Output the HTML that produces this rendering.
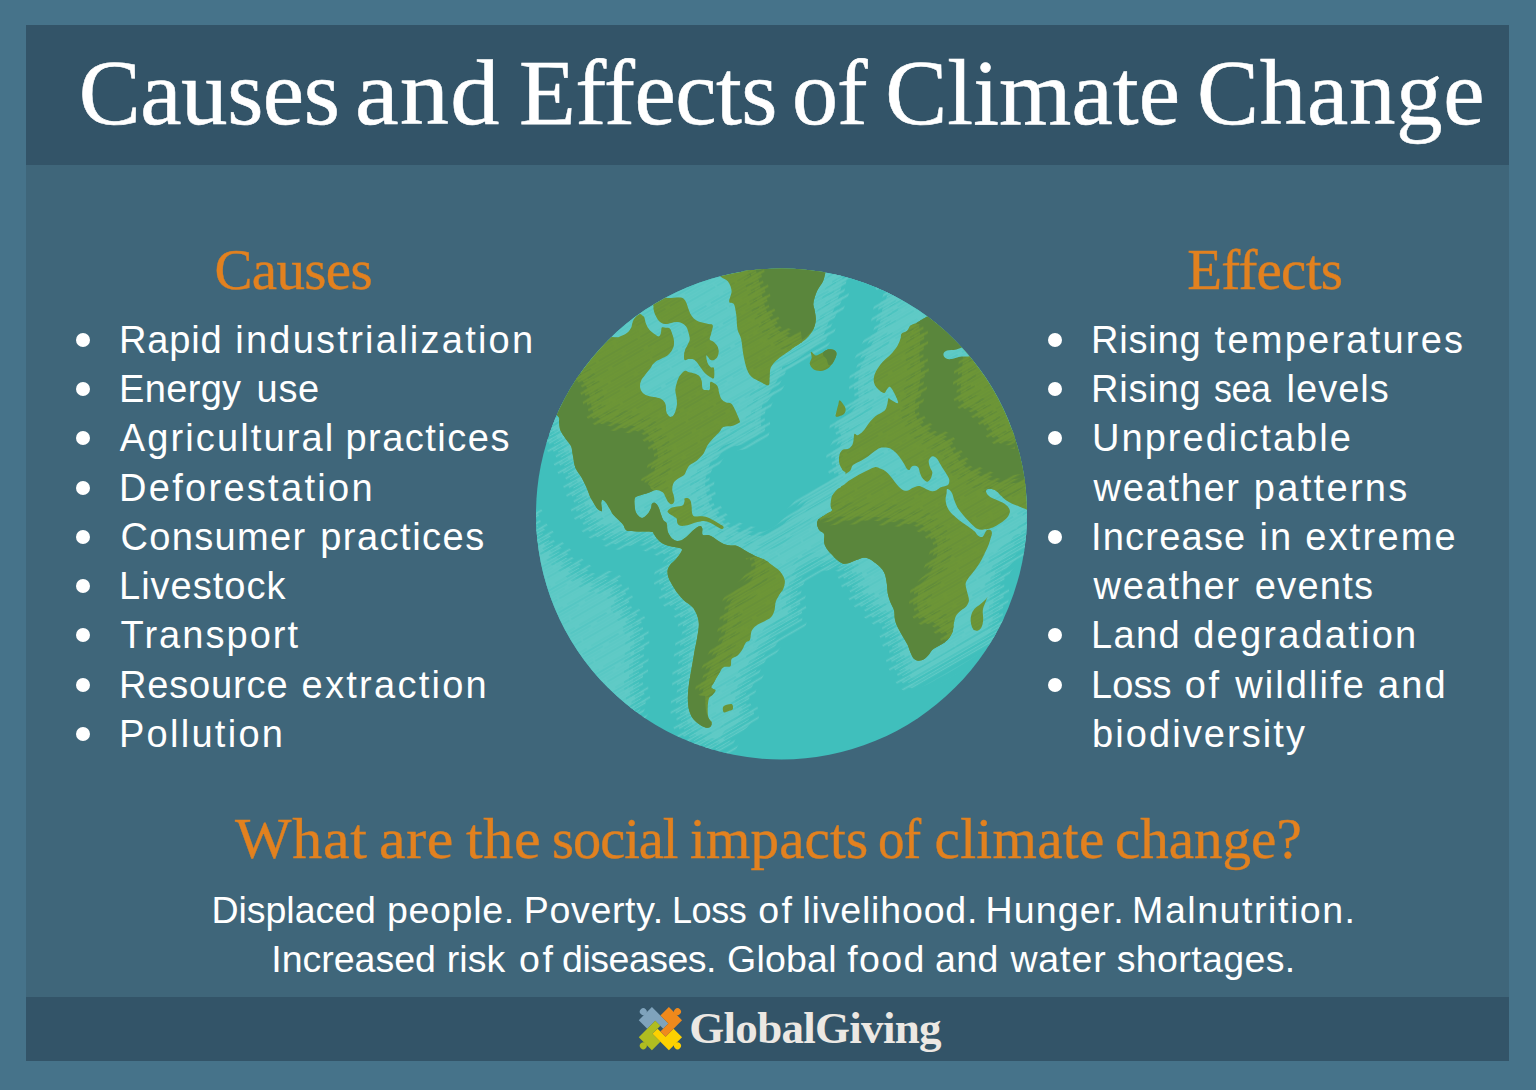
<!DOCTYPE html>
<html><head><meta charset="utf-8"><title>Causes and Effects of Climate Change</title>
<style>
html,body{margin:0;padding:0}
body{width:1536px;height:1090px;background:#46738a;position:relative;overflow:hidden;font-family:"Liberation Sans",sans-serif}
#panel{position:absolute;left:26px;top:25px;width:1483px;height:1036px;background:#3f667a}
#hdr{position:absolute;left:26px;top:25px;width:1483px;height:140px;background:#335468}
#ftr{position:absolute;left:26px;top:997px;width:1483px;height:64px;background:#335468}
.t{position:absolute;white-space:nowrap;line-height:1;margin:0}
.b{position:absolute;width:14px;height:14px;border-radius:50%;background:#fff}
svg{position:absolute;overflow:visible}
</style></head><body>
<div id="panel"></div><div id="hdr"></div><div id="ftr"></div>
<svg id="globe" style="left:0;top:0" width="1536" height="1090" viewBox="0 0 1536 1090">
<defs><clipPath id="gc"><circle cx="781.5" cy="514" r="245.5"/></clipPath>
<clipPath id="lc"><path d="M544.3,379.3C549.9,367.3 566.3,338.6 577.7,331.6C589.1,324.5 605.4,336.4 612.7,337.1C620.0,337.8 619.1,336.5 621.7,335.7C624.2,334.9 626.2,333.7 627.8,332.3C629.4,330.9 630.4,329.3 631.3,327.5C632.1,325.6 632.2,323.0 632.9,321.3C633.6,319.6 634.3,318.4 635.4,317.2C636.6,315.9 638.6,314.0 639.8,313.9C641.1,313.7 642.2,315.4 643.0,316.1C643.7,316.7 643.8,316.5 644.4,317.8C644.9,319.2 645.3,322.1 646.1,324.0C646.9,326.0 647.9,327.9 649.2,329.5C650.5,331.1 652.4,332.5 654.0,333.7C655.6,334.8 657.7,336.5 658.8,336.4C660.0,336.3 660.4,334.5 660.9,333.0C661.4,331.5 661.0,328.3 661.8,327.5C662.6,326.6 664.4,327.6 665.7,327.8C667.0,327.9 668.7,327.2 669.8,328.4C671.0,329.7 671.9,333.0 672.6,335.0C673.3,337.1 673.8,338.7 673.9,340.6C674.1,342.4 674.1,344.2 673.7,346.1C673.2,347.9 672.3,350.0 671.2,351.6C670.1,353.2 668.7,354.5 667.1,355.7C665.5,356.8 663.4,357.5 661.6,358.4C659.7,359.4 657.5,360.2 656.1,361.2C654.6,362.2 653.5,363.5 652.6,364.6C651.7,365.8 651.8,366.4 650.6,368.1C649.3,369.8 646.6,372.9 645.0,375.0C643.5,377.0 642.0,378.6 641.2,380.5C640.3,382.3 639.9,384.1 640.0,386.0C640.0,387.8 640.6,390.0 641.6,391.5C642.6,393.0 644.0,394.0 645.7,394.9C647.5,395.8 649.7,396.2 651.9,396.7C654.1,397.2 656.9,397.3 658.8,398.1C660.8,398.8 662.5,399.9 663.6,401.1C664.8,402.3 665.2,403.4 665.7,405.2C666.1,407.1 665.9,410.4 666.4,412.1C666.8,413.8 667.8,414.7 668.4,415.6C669.1,416.4 669.7,416.9 670.5,416.9C671.3,416.9 672.4,416.6 673.3,415.6C674.1,414.5 675.0,412.7 675.6,410.7C676.2,408.8 676.8,406.1 677.0,403.9C677.1,401.6 676.7,399.3 676.4,397.0C676.1,394.7 675.3,392.4 675.3,390.1C675.4,387.8 676.0,385.5 676.7,383.2C677.4,380.9 678.1,378.4 679.4,376.3C680.8,374.3 683.3,371.5 685.0,370.8C686.6,370.1 687.5,371.7 689.1,372.2C690.7,372.7 692.9,372.9 694.6,373.6C696.3,374.3 698.2,375.1 699.4,376.3C700.6,377.6 701.2,379.1 701.7,381.1C702.3,383.2 701.8,387.2 702.6,388.7C703.3,390.2 705.1,390.0 706.3,390.1C707.5,390.2 709.0,390.7 709.7,389.4C710.4,388.1 709.6,383.1 710.4,382.1C711.2,381.1 713.3,382.7 714.5,383.5C715.8,384.2 716.9,385.1 717.7,386.7C718.5,388.2 718.5,390.8 719.1,392.8C719.7,394.9 720.3,397.5 721.4,399.0C722.5,400.6 723.9,401.4 725.6,402.2C727.2,403.0 729.6,402.5 731.1,403.6C732.5,404.7 733.3,406.6 734.5,408.7C735.6,410.8 737.0,414.1 737.9,416.2C738.9,418.4 739.7,420.7 740.0,421.7C740.3,422.7 741.1,421.5 739.9,422.2C738.7,422.9 735.5,425.0 732.8,425.8C730.0,426.6 725.4,426.0 723.2,427.0C721.0,428.0 721.2,430.0 719.6,431.7C718.0,433.5 715.7,435.5 713.7,437.7C711.7,439.9 709.4,442.3 707.7,444.9C706.0,447.4 705.4,450.6 703.7,453.2C701.9,455.8 699.3,458.4 697.0,460.4C694.7,462.4 691.5,463.5 689.8,465.1C688.1,466.7 687.6,468.4 686.6,470.0C685.7,471.6 685.6,473.4 684.1,475.0C682.6,476.5 679.3,477.7 677.5,479.1C675.7,480.5 674.3,481.4 673.4,483.2C672.5,485.0 672.2,487.6 672.2,489.8C672.3,492.0 673.6,494.5 673.9,496.4C674.2,498.3 674.6,500.1 674.2,501.4C673.9,502.7 672.7,504.2 671.7,504.3C670.8,504.5 669.5,503.4 668.4,502.2C667.4,501.0 666.6,498.9 665.6,497.2C664.7,495.6 664.3,493.5 662.7,492.3C661.1,491.1 658.5,490.0 656.1,490.1C653.6,490.3 650.6,492.2 647.8,493.1C645.0,494.0 641.7,494.8 639.5,495.6C637.4,496.4 635.7,496.4 634.9,498.1C634.1,499.7 634.4,503.0 634.6,505.5C634.8,508.0 635.0,510.9 636.2,512.9C637.5,515.0 640.1,517.8 642.0,517.9C643.9,518.0 646.3,515.4 647.8,513.8C649.3,512.1 650.4,509.6 651.1,508.0C651.8,506.3 651.2,504.7 651.9,503.9C652.6,503.0 654.1,502.5 655.2,503.0C656.3,503.6 657.6,505.2 658.5,507.2C659.5,509.1 660.2,512.4 661.0,514.6C661.8,516.8 662.5,518.9 663.5,520.4C664.4,521.8 666.1,521.4 666.8,523.2C667.5,525.0 666.9,528.8 667.6,531.1C668.3,533.4 669.5,535.3 670.9,536.9C672.3,538.5 674.1,540.1 675.9,540.7C677.7,541.2 679.7,541.0 681.7,540.2C683.6,539.4 685.6,537.6 687.4,536.1C689.2,534.5 690.9,532.5 692.4,531.1C693.9,529.7 695.2,528.6 696.5,527.8C697.8,527.0 699.3,526.0 700.3,526.1C701.3,526.3 701.9,527.2 702.3,528.6C702.7,530.1 701.5,533.6 702.6,534.7C703.7,535.8 707.0,534.7 708.9,535.2C710.8,535.7 712.1,536.6 713.9,537.7C715.6,538.8 717.4,540.6 719.6,541.8C721.8,543.1 724.4,544.5 727.1,545.1C729.7,545.8 732.8,545.1 735.3,545.6C737.8,546.2 739.7,547.3 741.9,548.4C744.1,549.6 746.1,551.2 748.5,552.6C751.0,553.9 754.0,555.5 756.8,556.7C759.5,557.9 762.3,558.4 765.0,560.0C767.8,561.6 770.7,564.1 773.3,566.1C775.9,568.1 778.6,569.6 780.5,572.0C782.4,574.4 784.3,577.6 784.8,580.4C785.2,583.1 784.2,586.3 783.3,588.7C782.4,591.1 780.5,592.5 779.3,594.7C778.0,596.9 776.5,599.3 775.7,601.8C774.9,604.4 775.3,607.6 774.5,610.2C773.7,612.8 772.5,615.6 770.9,617.3C769.3,619.1 767.1,619.7 765.0,620.9C762.8,622.1 760.0,622.9 757.8,624.5C755.6,626.1 753.1,627.9 751.8,630.5C750.5,633.0 750.9,638.0 749.9,640.0C748.9,642.0 747.1,640.8 745.9,642.4C744.6,644.0 743.7,647.4 742.3,649.5C740.9,651.7 739.3,653.9 737.5,655.5C735.7,657.1 732.8,657.3 731.6,659.1C730.4,660.9 731.8,664.8 730.4,666.2C729.0,667.6 725.2,666.0 723.2,667.4C721.2,668.8 720.0,672.0 718.4,674.6C716.9,677.2 714.9,680.7 713.7,682.9C712.5,685.1 711.0,686.5 711.3,687.7C711.6,688.9 715.4,688.9 715.6,690.1C715.8,691.3 713.6,693.5 712.5,694.9C711.4,696.3 709.7,696.3 708.9,698.4C708.1,700.6 707.8,704.8 707.7,708.0C707.6,711.2 707.7,715.1 708.4,717.5C709.1,719.9 711.5,720.7 711.8,722.3C712.0,723.9 711.2,726.2 710.1,727.1C709.0,727.9 707.3,728.1 705.3,727.5C703.3,726.9 700.4,725.2 698.2,723.5C696.0,721.8 693.8,720.1 692.2,717.5C690.6,714.9 689.3,711.6 688.6,708.0C687.9,704.4 687.8,700.4 687.9,696.1C688.0,691.7 688.6,686.9 689.3,681.7C690.1,676.6 691.3,670.2 692.2,665.0C693.1,659.9 693.8,655.1 694.6,650.7C695.4,646.4 696.3,643.2 697.0,638.8C697.7,634.4 698.9,628.5 698.9,624.5C698.9,620.5 697.9,617.7 697.0,615.0C696.1,612.2 693.6,608.6 693.4,607.8C693.2,607.0 696.1,610.8 695.7,610.4C695.2,610.0 692.7,607.1 690.7,605.4C688.8,603.8 686.3,602.5 684.1,600.5C681.9,598.4 679.6,595.8 677.5,593.0C675.5,590.3 673.3,586.6 671.7,583.9C670.2,581.3 669.1,579.5 668.4,577.3C667.8,575.1 667.3,572.8 667.6,570.7C667.9,568.7 668.7,566.9 670.1,565.0C671.5,563.0 674.1,561.2 675.9,559.2C677.7,557.1 679.9,554.3 680.8,552.6C681.8,550.9 682.5,549.8 681.7,548.9C680.8,548.1 677.9,547.8 675.9,547.3C673.8,546.8 671.5,546.6 669.3,546.0C667.1,545.3 664.7,544.7 662.7,543.5C660.6,542.2 658.4,540.2 656.9,538.5C655.4,536.9 654.4,534.7 653.6,533.6C652.8,532.5 654.3,532.3 651.9,531.9C649.6,531.6 643.3,531.7 639.5,531.6C635.8,531.5 632.0,531.5 629.6,531.1C627.3,530.7 626.6,530.6 625.5,529.4C624.4,528.3 624.3,526.1 623.0,524.5C621.8,522.8 619.7,521.2 618.1,519.5C616.4,517.9 614.5,516.4 613.1,514.6C611.7,512.8 611.1,510.9 609.8,508.8C608.6,506.7 606.9,503.7 605.7,502.2C604.4,500.7 603.1,499.6 602.4,499.7C601.6,499.9 601.3,501.5 601.2,503.0C601.1,504.5 601.8,507.4 601.9,508.8C601.9,510.2 602.3,511.3 601.6,511.3C600.8,511.3 598.8,510.3 597.4,508.8C596.1,507.3 594.5,504.3 593.3,502.2C592.1,500.1 591.2,499.0 590.0,496.4C588.8,493.8 587.5,489.8 586.1,486.6C584.6,483.4 583.1,480.2 581.3,477.1C579.5,473.9 576.7,471.1 575.3,467.5C573.9,463.9 573.7,459.2 572.9,455.6C572.2,452.0 572.2,448.8 571.0,446.1C569.8,443.3 567.5,441.5 565.8,438.9C564.0,436.3 561.6,433.3 560.5,430.6C559.4,427.8 559.5,424.6 559.1,422.2C558.7,419.8 560.6,419.4 558.1,416.2C555.7,413.1 546.6,409.3 544.3,403.1C542.0,397.0 538.7,391.2 544.3,379.3Z"/><path d="M653.3,305.5C653.8,306.9 653.2,308.0 653.6,309.6C653.9,311.2 654.6,313.4 655.4,315.1C656.1,316.8 657.1,318.6 658.1,319.9C659.2,321.2 660.3,322.2 661.6,322.9C662.8,323.6 664.1,324.0 665.7,324.0C667.3,324.0 669.4,323.3 671.2,322.9C673.0,322.6 674.9,321.9 676.7,322.0C678.5,322.0 680.6,322.5 682.2,323.3C683.8,324.2 685.3,325.3 686.3,326.8C687.4,328.3 687.8,330.2 688.4,332.3C689.0,334.4 689.9,337.1 689.8,339.2C689.7,341.2 688.5,342.8 687.7,344.7C686.9,346.5 685.6,348.3 685.0,350.2C684.3,352.0 684.0,354.0 684.0,355.7C683.9,357.3 683.9,359.5 684.7,360.1C685.4,360.7 687.1,359.3 688.4,359.1C689.7,359.0 691.1,358.7 692.5,359.1C693.9,359.6 695.4,360.6 696.7,361.9C697.9,363.1 698.8,365.0 700.1,366.7C701.4,368.4 702.7,370.6 704.2,372.2C705.7,373.8 707.4,375.4 709.0,376.3C710.6,377.3 713.1,379.4 713.9,378.0C714.7,376.6 714.3,369.8 713.9,368.1C713.4,366.3 712.0,368.0 711.1,367.4C710.2,366.8 709.1,365.9 708.3,364.6C707.6,363.4 707.0,361.4 706.7,359.8C706.4,358.3 706.1,355.9 706.3,355.4C706.5,355.0 707.4,356.3 708.1,357.1C708.8,357.8 709.4,359.3 710.4,359.8C711.4,360.3 712.7,360.6 713.9,360.1C715.0,359.6 716.5,358.5 717.3,357.1C718.1,355.6 718.7,353.4 718.7,351.6C718.7,349.7 718.1,347.7 717.3,346.1C716.5,344.4 715.1,343.0 713.9,341.9C712.6,340.8 710.2,340.8 709.7,339.4C709.3,338.1 710.6,336.0 711.1,333.7C711.6,331.3 713.2,327.0 712.8,325.4C712.3,323.8 710.5,324.6 708.3,324.0C706.2,323.5 702.4,322.8 700.1,322.0C697.8,321.2 696.1,320.4 694.6,319.2C693.1,318.1 692.2,316.8 691.1,315.1C690.1,313.4 689.2,311.0 688.4,308.9C687.6,306.8 687.2,304.5 686.3,302.7C685.4,300.9 684.3,299.2 682.9,298.3C681.5,297.5 680.7,297.7 678.1,297.6C675.4,297.5 670.3,298.5 667.1,297.9C663.9,297.2 661.6,293.3 658.8,293.8C656.1,294.2 651.5,298.7 650.6,300.6C649.6,302.6 652.8,304.0 653.3,305.5Z"/><path d="M716.1,269.5C706.2,273.1 718.8,274.7 720.8,276.7C722.8,278.7 726.2,279.1 728.0,281.5C729.8,283.9 731.4,287.6 731.6,291.0C731.8,294.4 728.8,299.6 729.2,301.7C729.6,303.9 732.8,301.9 733.9,304.1C735.1,306.3 735.7,310.7 736.3,314.9C736.9,319.0 736.7,325.2 737.5,329.2C738.3,333.1 740.1,334.3 741.1,338.7C742.1,343.1 742.5,350.2 743.5,355.4C744.5,360.6 745.7,366.1 747.1,369.7C748.5,373.3 749.6,374.9 751.8,376.9C754.0,378.9 757.4,380.3 760.2,381.7C763.0,383.0 766.9,386.0 768.5,385.2C770.1,384.4 769.3,379.9 769.7,376.9C770.1,373.9 769.5,370.3 770.9,367.3C772.3,364.4 774.9,361.8 778.1,359.0C781.3,356.2 787.3,352.6 790.0,350.6C792.7,348.7 791.6,349.1 794.3,347.1C797.0,345.1 803.1,341.7 806.2,338.7C809.4,335.7 811.8,332.4 813.4,329.2C815.0,326.0 815.6,322.8 815.8,319.6C816.0,316.5 815.0,312.9 814.6,310.1C814.2,307.3 813.0,306.1 813.4,302.9C813.8,299.8 815.4,294.6 817.0,291.0C818.6,287.4 821.5,284.4 822.9,281.5C824.3,278.5 824.5,275.9 825.3,273.1C826.1,270.3 835.3,267.8 827.7,264.8C820.2,261.8 798.6,254.4 780.0,255.2C761.4,256.0 725.9,266.0 716.1,269.5Z"/><path d="M811.0,351.8C811.7,351.4 814.0,355.2 815.8,355.4C817.6,355.6 819.8,354.0 821.7,353.0C823.7,352.0 825.6,349.9 827.7,349.4C829.8,349.0 832.9,349.4 834.4,350.2C835.9,351.0 836.7,352.4 836.5,354.2C836.4,356.1 835.1,359.0 833.7,361.4C832.2,363.8 829.9,366.9 827.7,368.5C825.5,370.1 822.9,370.8 820.6,370.9C818.2,371.0 815.2,370.4 813.4,369.2C811.6,368.1 810.1,365.7 809.8,363.8C809.5,361.9 811.5,359.8 811.7,357.8C811.9,355.8 810.3,352.2 811.0,351.8Z"/><path d="M839.6,400.3C840.4,400.3 842.2,402.8 843.2,404.3C844.2,405.8 845.5,407.5 845.6,409.1C845.7,410.7 845.5,412.6 843.9,413.9C842.3,415.1 837.2,417.3 836.1,416.7C834.9,416.1 836.4,412.3 836.8,410.3C837.2,408.2 838.0,406.0 838.4,404.3C838.9,402.6 838.8,400.3 839.6,400.3Z"/><path d="M667.6,511.3C667.9,510.3 669.5,508.8 670.9,508.0C672.3,507.2 673.9,507.1 675.9,506.7C677.8,506.2 681.0,506.4 682.5,505.5C683.9,504.6 684.1,502.6 684.5,501.4C684.8,500.2 684.0,499.0 684.5,498.4C685.0,497.9 686.4,497.7 687.4,498.1C688.4,498.4 689.7,499.2 690.4,500.6C691.1,501.9 691.3,504.3 691.6,506.3C691.8,508.4 691.6,511.3 692.1,512.9C692.5,514.6 692.9,515.7 694.0,516.2C695.2,516.8 697.1,516.2 699.0,516.2C700.9,516.3 703.5,516.2 705.6,516.7C707.7,517.2 709.4,518.2 711.4,519.2C713.3,520.2 715.2,521.4 717.2,522.5C719.1,523.7 721.9,525.2 722.9,526.1C724.0,527.1 723.7,527.7 723.4,528.1C723.2,528.6 722.6,529.3 721.3,529.0C720.0,528.6 717.4,526.9 715.5,525.8C713.6,524.7 711.7,523.3 709.7,522.5C707.8,521.7 706.0,520.9 703.9,520.9C701.9,520.8 699.5,521.5 697.3,522.0C695.1,522.6 692.9,523.5 690.7,524.2C688.5,524.8 686.1,525.6 684.1,525.8C682.2,526.0 680.3,525.9 679.2,525.3C678.0,524.8 677.6,523.6 677.2,522.5C676.8,521.4 677.3,519.8 676.7,518.7C676.1,517.7 674.6,517.1 673.4,516.2C672.2,515.4 670.2,514.6 669.3,513.8C668.3,512.9 667.3,512.2 667.6,511.3Z"/><path d="M723.2,706.8C723.9,705.5 726.5,704.8 728.0,704.4C729.5,704.0 731.5,703.6 732.3,704.4C733.1,705.2 733.3,708.1 732.8,709.2C732.2,710.2 730.7,710.3 729.2,710.8C727.7,711.4 724.7,713.0 723.7,712.3C722.7,711.6 722.5,708.1 723.2,706.8Z"/><path d="M987.5,597.1C987.4,597.7 985.9,600.8 985.1,603.0C984.3,605.2 983.1,607.4 982.8,610.2C982.4,613.0 983.4,616.9 983.2,619.7C983.0,622.5 982.4,625.1 981.6,626.9C980.7,628.7 979.4,630.1 978.0,630.5C976.6,630.9 974.4,630.7 973.2,629.3C972.0,627.9 971.1,624.5 970.8,622.1C970.5,619.7 970.7,617.1 971.3,615.0C971.9,612.8 972.9,610.8 974.4,609.0C975.9,607.2 978.5,605.8 980.4,604.2C982.2,602.6 984.4,600.6 985.6,599.4C986.8,598.3 987.6,596.5 987.5,597.1Z"/><path d="M926.0,317.2C921.0,319.7 919.7,321.1 917.2,322.5C914.6,323.9 912.4,324.2 910.7,325.6C909.0,327.0 908.4,329.8 906.9,331.1C905.4,332.4 902.7,332.2 901.7,333.5C900.6,334.7 901.2,336.6 900.5,338.7C899.7,340.8 898.9,343.3 897.4,345.9C895.8,348.5 893.4,351.5 890.9,354.2C888.5,356.9 885.1,359.2 882.6,362.1C880.1,365.0 877.4,368.6 875.9,371.6C874.4,374.7 873.6,377.8 873.7,380.5C873.9,383.1 874.9,385.5 876.6,387.6C878.3,389.7 882.0,392.9 883.8,393.1C885.6,393.3 886.3,389.8 887.3,388.8C888.4,387.8 889.0,386.3 890.2,387.1C891.4,387.9 893.2,390.9 894.5,393.6C895.8,396.2 898.6,402.0 898.1,403.1C897.6,404.2 893.2,401.1 891.6,400.3C890.0,399.5 889.2,397.7 888.5,398.3C887.8,399.0 888.0,402.2 887.3,404.3C886.7,406.4 886.5,408.8 884.5,410.8C882.5,412.7 878.0,414.1 875.4,416.2C872.8,418.3 870.8,420.9 868.7,423.4C866.7,425.9 864.9,429.3 863.0,431.3C861.1,433.3 859.0,434.8 857.5,435.3C856.1,435.8 855.2,432.8 854.4,434.1C853.7,435.4 853.9,440.8 853.0,443.2C852.1,445.6 850.8,447.4 849.2,448.4C847.5,449.5 844.8,448.6 843.2,449.6C841.6,450.6 840.3,452.2 839.6,454.4C839.0,456.6 838.7,460.2 839.2,462.8C839.6,465.3 841.4,468.1 842.5,469.9C843.6,471.7 845.8,470.8 845.6,473.5C845.4,476.2 842.9,483.5 841.5,486.1C840.1,488.8 838.8,487.8 837.2,489.5C835.7,491.1 833.1,493.4 832.0,496.1C830.9,498.9 830.6,503.3 830.6,505.7C830.6,508.1 832.7,509.1 832.0,510.5C831.3,511.9 828.6,512.6 826.5,514.0C824.4,515.4 820.7,517.9 819.4,518.8C818.0,519.7 818.6,518.6 818.2,519.5C817.8,520.5 816.8,522.5 817.0,524.3C817.2,526.1 818.2,528.7 819.4,530.3C820.6,531.9 823.3,531.9 824.1,533.9C824.9,535.8 823.7,539.8 824.1,542.2C824.5,544.6 825.3,546.2 826.5,548.2C827.7,550.2 829.5,552.1 831.3,554.1C833.1,556.1 835.3,558.5 837.2,560.1C839.2,561.7 841.2,563.2 843.2,563.7C845.2,564.1 847.0,563.6 849.2,563.0C851.4,562.4 853.9,561.0 856.3,560.1C858.7,559.2 861.3,557.9 863.5,557.7C865.7,557.5 867.5,558.0 869.4,558.9C871.4,559.8 873.4,561.4 875.4,563.0C877.4,564.5 879.8,566.5 881.4,568.4C883.0,570.3 884.0,571.8 885.0,574.4C885.9,577.0 886.4,580.8 886.9,583.9C887.3,587.1 887.3,590.5 887.8,593.5C888.4,596.5 889.2,599.1 890.2,601.8C891.2,604.6 893.2,607.2 894.0,610.2C894.8,613.2 894.3,616.7 895.0,619.7C895.6,622.7 896.8,625.3 898.1,628.1C899.4,630.9 901.3,633.6 902.8,636.4C904.4,639.2 906.3,642.0 907.6,644.8C908.9,647.6 909.7,650.9 910.7,653.1C911.7,655.4 912.3,657.1 913.6,658.4C914.9,659.6 916.6,660.6 918.3,660.8C920.1,660.9 922.5,660.2 924.3,659.1C926.1,658.0 927.7,655.9 929.1,654.3C930.5,652.7 931.1,650.9 932.7,649.5C934.3,648.1 936.6,647.2 938.6,646.0C940.6,644.8 942.8,643.8 944.6,642.4C946.4,641.0 948.0,639.6 949.4,637.6C950.7,635.6 952.1,633.0 952.9,630.5C953.7,627.9 953.5,624.7 954.1,622.1C954.7,619.5 955.3,616.9 956.5,615.0C957.7,613.0 959.7,611.6 961.3,610.2C962.9,608.8 964.8,608.2 966.1,606.6C967.3,605.0 968.7,603.0 968.9,600.6C969.1,598.3 967.8,595.1 967.2,592.3C966.7,589.5 965.4,586.3 965.6,583.9C965.8,581.6 967.2,580.0 968.4,578.0C969.7,576.0 971.4,574.4 973.2,572.0C975.0,569.6 977.2,566.9 979.2,563.7C981.2,560.5 984.6,553.9 985.1,552.9C985.6,551.9 982.0,557.9 982.1,557.6C982.2,557.3 984.7,553.2 985.8,551.0C986.9,548.8 987.9,546.6 988.7,544.4C989.5,542.2 990.3,539.6 990.8,537.8C991.3,536.0 991.8,534.8 991.9,533.7C991.9,532.5 991.7,531.4 991.2,530.8C990.7,530.1 989.5,529.8 988.7,529.8C987.9,529.7 986.9,530.5 986.2,530.5C985.6,530.5 984.6,530.0 984.6,529.8C984.6,529.6 984.9,529.8 986.2,529.4C987.6,529.0 990.6,528.4 992.8,527.5C995.0,526.5 997.4,525.1 999.4,523.8C1001.5,522.5 1003.6,521.1 1005.2,519.6C1006.8,518.1 1008.2,516.2 1008.9,514.7C1009.7,513.2 1010.0,511.9 1009.8,510.6C1009.6,509.2 1008.9,507.7 1007.7,506.4C1006.5,505.1 1004.7,503.8 1002.8,502.7C1000.8,501.6 998.3,500.8 996.1,499.8C993.9,498.8 991.2,497.8 989.5,496.5C987.9,495.3 986.7,493.6 986.2,492.4C985.8,491.2 986.0,490.1 986.7,489.5C987.3,488.9 988.9,488.5 990.4,488.7C991.8,488.8 993.7,489.3 995.3,490.3C997.0,491.4 998.5,493.2 1000.3,494.9C1002.1,496.5 1004.0,498.7 1006.1,500.2C1008.1,501.7 1010.5,502.9 1012.7,503.9C1014.9,505.0 1017.0,505.5 1019.3,506.4C1021.5,507.3 1023.7,508.5 1026.3,509.3C1028.9,510.1 1028.3,529.1 1035.0,511.4C1041.6,493.7 1069.0,437.1 1066.2,403.1C1063.5,369.2 1038.4,323.6 1018.5,307.7C998.7,291.8 962.4,306.1 947.0,307.7C931.5,309.3 931.0,314.8 926.0,317.2Z"/></clipPath>
<pattern id="hl" width="80" height="24.00" patternUnits="userSpaceOnUse" patternTransform="rotate(-30)"><path d="M0,3.00H80" stroke="#5a863c" stroke-width="0.96" stroke-opacity="0.27" stroke-dasharray="28 4" stroke-dashoffset="21"/><path d="M0,6.00H80" stroke="#5a863c" stroke-width="0.99" stroke-opacity="0.20" stroke-dasharray="26 3" stroke-dashoffset="16"/><path d="M0,9.00H80" stroke="#5a863c" stroke-width="0.76" stroke-opacity="0.22" stroke-dasharray="54 1" stroke-dashoffset="14"/><path d="M0,12.00H80" stroke="#5a863c" stroke-width="0.88" stroke-opacity="0.65" stroke-dasharray="45 3" stroke-dashoffset="30"/><path d="M0,15.00H80" stroke="#5a863c" stroke-width="1.48" stroke-opacity="0.19" stroke-dasharray="35 1" stroke-dashoffset="27"/><path d="M0,18.00H80" stroke="#5a863c" stroke-width="0.79" stroke-opacity="0.40" stroke-dasharray="31 5" stroke-dashoffset="26"/><path d="M0,21.00H80" stroke="#5a863c" stroke-width="1.21" stroke-opacity="0.45" stroke-dasharray="27 0" stroke-dashoffset="18"/><path d="M0,0.00H80" stroke="#5a863c" stroke-width="0.86" stroke-opacity="0.69" stroke-dasharray="36 5" stroke-dashoffset="14"/><path d="M0,24.00H80" stroke="#5a863c" stroke-width="0.86" stroke-opacity="0.69" stroke-dasharray="36 5" stroke-dashoffset="14"/></pattern><pattern id="hs" width="80" height="24.00" patternUnits="userSpaceOnUse" patternTransform="rotate(-30)"><path d="M0,3.00H80" stroke="#40bfbc" stroke-width="0.87" stroke-opacity="0.30" stroke-dasharray="49 2" stroke-dashoffset="25"/><path d="M0,6.00H80" stroke="#40bfbc" stroke-width="0.94" stroke-opacity="0.50" stroke-dasharray="51 2" stroke-dashoffset="28"/><path d="M0,9.00H80" stroke="#40bfbc" stroke-width="1.19" stroke-opacity="0.15" stroke-dasharray="51 1" stroke-dashoffset="13"/><path d="M0,12.00H80" stroke="#40bfbc" stroke-width="0.89" stroke-opacity="0.08" stroke-dasharray="52 5" stroke-dashoffset="21"/><path d="M0,15.00H80" stroke="#40bfbc" stroke-width="1.13" stroke-opacity="0.32" stroke-dasharray="46 5" stroke-dashoffset="22"/><path d="M0,18.00H80" stroke="#40bfbc" stroke-width="0.87" stroke-opacity="0.76" stroke-dasharray="42 5" stroke-dashoffset="30"/><path d="M0,21.00H80" stroke="#40bfbc" stroke-width="0.64" stroke-opacity="0.65" stroke-dasharray="60 7" stroke-dashoffset="21"/><path d="M0,0.00H80" stroke="#40bfbc" stroke-width="0.77" stroke-opacity="0.38" stroke-dasharray="26 4" stroke-dashoffset="21"/><path d="M0,24.00H80" stroke="#40bfbc" stroke-width="0.77" stroke-opacity="0.38" stroke-dasharray="26 4" stroke-dashoffset="21"/></pattern><pattern id="e1" width="80" height="24.00" patternUnits="userSpaceOnUse" patternTransform="rotate(-30)"><path d="M0,1.50H80" stroke="#60cac6" stroke-width="1.80"/><path d="M0,4.50H80" stroke="#60cac6" stroke-width="1.80"/><path d="M0,7.50H80" stroke="#60cac6" stroke-width="1.80"/><path d="M0,10.50H80" stroke="#60cac6" stroke-width="1.80"/><path d="M0,13.50H80" stroke="#60cac6" stroke-width="1.80"/><path d="M0,16.50H80" stroke="#60cac6" stroke-width="1.80"/><path d="M0,19.50H80" stroke="#60cac6" stroke-width="1.80"/><path d="M0,22.50H80" stroke="#60cac6" stroke-width="1.80"/></pattern><pattern id="e2" width="80" height="24.00" patternUnits="userSpaceOnUse" patternTransform="rotate(-30)"><path d="M0,1.50H80" stroke="#60cac6" stroke-width="1.80"/><path d="M0,7.50H80" stroke="#60cac6" stroke-width="1.80"/><path d="M0,10.50H80" stroke="#60cac6" stroke-width="1.80"/><path d="M0,16.50H80" stroke="#60cac6" stroke-width="1.80"/><path d="M0,19.50H80" stroke="#60cac6" stroke-width="1.80"/></pattern><pattern id="e3" width="80" height="24.00" patternUnits="userSpaceOnUse" patternTransform="rotate(-30)"><path d="M0,7.50H80" stroke="#60cac6" stroke-width="1.80"/><path d="M0,16.50H80" stroke="#60cac6" stroke-width="1.80"/></pattern><pattern id="d1" width="80" height="24.00" patternUnits="userSpaceOnUse" patternTransform="rotate(-30)"><path d="M0,3.00H80" stroke="#40bfbc" stroke-width="1.20"/><path d="M0,6.00H80" stroke="#40bfbc" stroke-width="1.20"/><path d="M0,9.00H80" stroke="#40bfbc" stroke-width="1.20"/><path d="M0,12.00H80" stroke="#40bfbc" stroke-width="1.20"/><path d="M0,15.00H80" stroke="#40bfbc" stroke-width="1.20"/><path d="M0,18.00H80" stroke="#40bfbc" stroke-width="1.20"/><path d="M0,21.00H80" stroke="#40bfbc" stroke-width="1.20"/><path d="M0,0.00H80" stroke="#40bfbc" stroke-width="1.20"/><path d="M0,24.00H80" stroke="#40bfbc" stroke-width="1.20"/></pattern><pattern id="d2" width="80" height="24.00" patternUnits="userSpaceOnUse" patternTransform="rotate(-30)"><path d="M0,3.00H80" stroke="#40bfbc" stroke-width="1.20"/><path d="M0,6.00H80" stroke="#40bfbc" stroke-width="1.20"/><path d="M0,12.00H80" stroke="#40bfbc" stroke-width="1.20"/><path d="M0,15.00H80" stroke="#40bfbc" stroke-width="1.20"/><path d="M0,21.00H80" stroke="#40bfbc" stroke-width="1.20"/></pattern><pattern id="d3" width="80" height="24.00" patternUnits="userSpaceOnUse" patternTransform="rotate(-30)"><path d="M0,6.00H80" stroke="#40bfbc" stroke-width="1.20"/><path d="M0,15.00H80" stroke="#40bfbc" stroke-width="1.20"/><path d="M0,21.00H80" stroke="#40bfbc" stroke-width="1.20"/></pattern><pattern id="g1" width="80" height="24.00" patternUnits="userSpaceOnUse" patternTransform="rotate(-30)"><path d="M0,1.50H80" stroke="#6d9636" stroke-width="1.80"/><path d="M0,4.50H80" stroke="#6d9636" stroke-width="1.80"/><path d="M0,7.50H80" stroke="#6d9636" stroke-width="1.80"/><path d="M0,10.50H80" stroke="#6d9636" stroke-width="1.80"/><path d="M0,13.50H80" stroke="#6d9636" stroke-width="1.80"/><path d="M0,16.50H80" stroke="#6d9636" stroke-width="1.80"/><path d="M0,19.50H80" stroke="#6d9636" stroke-width="1.80"/><path d="M0,22.50H80" stroke="#6d9636" stroke-width="1.80"/></pattern><pattern id="g2" width="80" height="24.00" patternUnits="userSpaceOnUse" patternTransform="rotate(-30)"><path d="M0,1.50H80" stroke="#6d9636" stroke-width="1.80"/><path d="M0,7.50H80" stroke="#6d9636" stroke-width="1.80"/><path d="M0,10.50H80" stroke="#6d9636" stroke-width="1.80"/><path d="M0,16.50H80" stroke="#6d9636" stroke-width="1.80"/><path d="M0,19.50H80" stroke="#6d9636" stroke-width="1.80"/></pattern><pattern id="g3" width="80" height="24.00" patternUnits="userSpaceOnUse" patternTransform="rotate(-30)"><path d="M0,7.50H80" stroke="#6d9636" stroke-width="1.80"/><path d="M0,16.50H80" stroke="#6d9636" stroke-width="1.80"/></pattern><pattern id="k1" width="80" height="24.00" patternUnits="userSpaceOnUse" patternTransform="rotate(-30)"><path d="M0,3.00H80" stroke="#5a863c" stroke-width="1.20"/><path d="M0,6.00H80" stroke="#5a863c" stroke-width="1.20"/><path d="M0,9.00H80" stroke="#5a863c" stroke-width="1.20"/><path d="M0,12.00H80" stroke="#5a863c" stroke-width="1.20"/><path d="M0,15.00H80" stroke="#5a863c" stroke-width="1.20"/><path d="M0,18.00H80" stroke="#5a863c" stroke-width="1.20"/><path d="M0,21.00H80" stroke="#5a863c" stroke-width="1.20"/><path d="M0,0.00H80" stroke="#5a863c" stroke-width="1.20"/><path d="M0,24.00H80" stroke="#5a863c" stroke-width="1.20"/></pattern><pattern id="k2" width="80" height="24.00" patternUnits="userSpaceOnUse" patternTransform="rotate(-30)"><path d="M0,3.00H80" stroke="#5a863c" stroke-width="1.20"/><path d="M0,6.00H80" stroke="#5a863c" stroke-width="1.20"/><path d="M0,12.00H80" stroke="#5a863c" stroke-width="1.20"/><path d="M0,15.00H80" stroke="#5a863c" stroke-width="1.20"/><path d="M0,21.00H80" stroke="#5a863c" stroke-width="1.20"/></pattern><pattern id="k3" width="80" height="24.00" patternUnits="userSpaceOnUse" patternTransform="rotate(-30)"><path d="M0,6.00H80" stroke="#5a863c" stroke-width="1.20"/><path d="M0,15.00H80" stroke="#5a863c" stroke-width="1.20"/><path d="M0,21.00H80" stroke="#5a863c" stroke-width="1.20"/></pattern>
</defs>
<g clip-path="url(#gc)"><circle cx="781.5" cy="514" r="246.5" fill="#40bfbc"/>
<path d="M552.7,412.7C547.9,436.5 547.7,420.6 549.1,427.0C550.5,433.3 557.2,442.9 561.0,450.8C564.8,458.8 568.6,466.7 571.7,474.7C574.9,482.6 578.1,492.6 580.1,498.5C582.1,504.4 581.7,505.7 583.7,510.0C585.7,514.3 587.8,520.1 592.0,524.3C596.2,528.5 603.1,532.7 608.7,535.0C614.3,537.4 619.4,538.0 625.4,538.6C631.4,539.2 638.1,537.4 644.5,538.6C650.9,539.8 658.8,543.0 663.6,545.8C668.3,548.6 672.3,551.7 673.1,555.3C673.9,558.9 669.5,562.9 668.3,567.2C667.2,571.6 665.2,576.4 666.0,581.6C666.8,586.7 670.3,593.9 673.1,598.3C675.9,602.6 679.9,603.8 682.7,607.8C685.4,611.8 689.0,616.1 689.8,622.1C690.6,628.1 688.2,636.4 687.4,643.6C686.6,650.7 685.6,657.1 685.0,665.0C684.4,673.0 684.3,683.3 683.9,691.3C683.5,699.2 682.1,706.4 682.7,712.8C683.3,719.1 685.0,725.1 687.4,729.4C689.8,733.8 693.0,736.4 697.0,739.0C700.9,741.6 706.9,743.8 711.3,745.0C715.7,746.1 720.0,747.9 723.2,746.1C726.4,744.4 727.6,737.8 730.4,734.2C733.1,730.6 737.1,727.9 739.9,724.7C742.7,721.5 746.7,719.1 747.1,715.1C747.5,711.2 742.7,705.6 742.3,700.8C741.9,696.1 743.1,691.3 744.7,686.5C746.3,681.7 749.4,677.0 751.8,672.2C754.2,667.4 756.2,662.7 759.0,657.9C761.8,653.1 765.0,648.7 768.5,643.6C772.1,638.4 776.0,630.8 780.5,626.9C784.9,622.9 792.9,624.1 795.0,620.0C797.1,615.8 793.0,607.2 793.0,601.8C793.0,596.5 793.7,592.4 795.0,587.7C796.4,583.0 798.4,577.3 801.1,573.6C803.8,569.9 807.2,567.2 811.2,565.5C815.2,563.8 820.6,563.7 825.3,563.5C830.0,563.3 835.7,563.5 839.4,564.5C843.1,565.5 845.3,566.7 847.5,569.5C849.7,572.4 850.6,577.6 852.6,581.7C854.6,585.7 856.8,589.7 859.6,593.8C862.5,597.8 866.0,602.2 869.7,605.9C873.4,609.6 878.9,613.3 881.8,616.0C884.8,618.7 885.2,617.5 887.3,622.1C889.4,626.7 892.5,636.8 894.5,643.6C896.5,650.3 896.9,656.7 899.3,662.7C901.7,668.6 905.6,676.4 908.8,679.4C912.0,682.3 914.0,681.7 918.3,680.6C922.7,679.4 929.5,675.2 935.0,672.2C940.6,669.2 945.8,666.2 951.7,662.7C957.7,659.1 964.9,654.7 970.8,650.7C976.8,646.8 983.5,642.4 987.5,638.8C991.5,635.2 993.3,634.0 994.7,629.3C996.1,624.5 995.5,616.9 995.9,610.2C996.3,603.4 996.5,595.9 997.1,588.7C997.7,581.6 996.5,573.6 999.4,567.2C1002.4,560.9 1011.8,554.9 1015.0,550.6C1018.1,546.2 1016.3,543.8 1018.5,541.0C1020.7,538.2 1020.1,556.8 1028.1,533.9C1036.0,510.9 1067.8,448.8 1066.2,403.1C1064.6,357.5 1066.2,287.8 1018.5,260.0C970.8,232.2 853.5,232.2 780.0,236.1C706.5,240.1 615.6,254.4 577.7,283.9C539.8,313.3 557.4,388.8 552.7,412.7Z" fill="#60cac6"/><path d="M552.7,412.7C547.9,436.5 547.7,420.6 549.1,427.0C550.5,433.3 557.2,442.9 561.0,450.8C564.8,458.8 568.6,466.7 571.7,474.7C574.9,482.6 578.1,492.6 580.1,498.5C582.1,504.4 581.7,505.7 583.7,510.0C585.7,514.3 587.8,520.1 592.0,524.3C596.2,528.5 603.1,532.7 608.7,535.0C614.3,537.4 619.4,538.0 625.4,538.6C631.4,539.2 638.1,537.4 644.5,538.6C650.9,539.8 658.8,543.0 663.6,545.8C668.3,548.6 672.3,551.7 673.1,555.3C673.9,558.9 669.5,562.9 668.3,567.2C667.2,571.6 665.2,576.4 666.0,581.6C666.8,586.7 670.3,593.9 673.1,598.3C675.9,602.6 679.9,603.8 682.7,607.8C685.4,611.8 689.0,616.1 689.8,622.1C690.6,628.1 688.2,636.4 687.4,643.6C686.6,650.7 685.6,657.1 685.0,665.0C684.4,673.0 684.3,683.3 683.9,691.3C683.5,699.2 682.1,706.4 682.7,712.8C683.3,719.1 685.0,725.1 687.4,729.4C689.8,733.8 693.0,736.4 697.0,739.0C700.9,741.6 706.9,743.8 711.3,745.0C715.7,746.1 720.0,747.9 723.2,746.1C726.4,744.4 727.6,737.8 730.4,734.2C733.1,730.6 737.1,727.9 739.9,724.7C742.7,721.5 746.7,719.1 747.1,715.1C747.5,711.2 742.7,705.6 742.3,700.8C741.9,696.1 743.1,691.3 744.7,686.5C746.3,681.7 749.4,677.0 751.8,672.2C754.2,667.4 756.2,662.7 759.0,657.9C761.8,653.1 765.0,648.7 768.5,643.6C772.1,638.4 776.0,630.8 780.5,626.9C784.9,622.9 792.9,624.1 795.0,620.0C797.1,615.8 793.0,607.2 793.0,601.8C793.0,596.5 793.7,592.4 795.0,587.7C796.4,583.0 798.4,577.3 801.1,573.6C803.8,569.9 807.2,567.2 811.2,565.5C815.2,563.8 820.6,563.7 825.3,563.5C830.0,563.3 835.7,563.5 839.4,564.5C843.1,565.5 845.3,566.7 847.5,569.5C849.7,572.4 850.6,577.6 852.6,581.7C854.6,585.7 856.8,589.7 859.6,593.8C862.5,597.8 866.0,602.2 869.7,605.9C873.4,609.6 878.9,613.3 881.8,616.0C884.8,618.7 885.2,617.5 887.3,622.1C889.4,626.7 892.5,636.8 894.5,643.6C896.5,650.3 896.9,656.7 899.3,662.7C901.7,668.6 905.6,676.4 908.8,679.4C912.0,682.3 914.0,681.7 918.3,680.6C922.7,679.4 929.5,675.2 935.0,672.2C940.6,669.2 945.8,666.2 951.7,662.7C957.7,659.1 964.9,654.7 970.8,650.7C976.8,646.8 983.5,642.4 987.5,638.8C991.5,635.2 993.3,634.0 994.7,629.3C996.1,624.5 995.5,616.9 995.9,610.2C996.3,603.4 996.5,595.9 997.1,588.7C997.7,581.6 996.5,573.6 999.4,567.2C1002.4,560.9 1011.8,554.9 1015.0,550.6C1018.1,546.2 1016.3,543.8 1018.5,541.0C1020.7,538.2 1020.1,556.8 1028.1,533.9C1036.0,510.9 1067.8,448.8 1066.2,403.1C1064.6,357.5 1066.2,287.8 1018.5,260.0C970.8,232.2 853.5,232.2 780.0,236.1C706.5,240.1 615.6,254.4 577.7,283.9C539.8,313.3 557.4,388.8 552.7,412.7Z" fill="none" stroke="url(#e1)" stroke-width="6"/><path d="M552.7,412.7C547.9,436.5 547.7,420.6 549.1,427.0C550.5,433.3 557.2,442.9 561.0,450.8C564.8,458.8 568.6,466.7 571.7,474.7C574.9,482.6 578.1,492.6 580.1,498.5C582.1,504.4 581.7,505.7 583.7,510.0C585.7,514.3 587.8,520.1 592.0,524.3C596.2,528.5 603.1,532.7 608.7,535.0C614.3,537.4 619.4,538.0 625.4,538.6C631.4,539.2 638.1,537.4 644.5,538.6C650.9,539.8 658.8,543.0 663.6,545.8C668.3,548.6 672.3,551.7 673.1,555.3C673.9,558.9 669.5,562.9 668.3,567.2C667.2,571.6 665.2,576.4 666.0,581.6C666.8,586.7 670.3,593.9 673.1,598.3C675.9,602.6 679.9,603.8 682.7,607.8C685.4,611.8 689.0,616.1 689.8,622.1C690.6,628.1 688.2,636.4 687.4,643.6C686.6,650.7 685.6,657.1 685.0,665.0C684.4,673.0 684.3,683.3 683.9,691.3C683.5,699.2 682.1,706.4 682.7,712.8C683.3,719.1 685.0,725.1 687.4,729.4C689.8,733.8 693.0,736.4 697.0,739.0C700.9,741.6 706.9,743.8 711.3,745.0C715.7,746.1 720.0,747.9 723.2,746.1C726.4,744.4 727.6,737.8 730.4,734.2C733.1,730.6 737.1,727.9 739.9,724.7C742.7,721.5 746.7,719.1 747.1,715.1C747.5,711.2 742.7,705.6 742.3,700.8C741.9,696.1 743.1,691.3 744.7,686.5C746.3,681.7 749.4,677.0 751.8,672.2C754.2,667.4 756.2,662.7 759.0,657.9C761.8,653.1 765.0,648.7 768.5,643.6C772.1,638.4 776.0,630.8 780.5,626.9C784.9,622.9 792.9,624.1 795.0,620.0C797.1,615.8 793.0,607.2 793.0,601.8C793.0,596.5 793.7,592.4 795.0,587.7C796.4,583.0 798.4,577.3 801.1,573.6C803.8,569.9 807.2,567.2 811.2,565.5C815.2,563.8 820.6,563.7 825.3,563.5C830.0,563.3 835.7,563.5 839.4,564.5C843.1,565.5 845.3,566.7 847.5,569.5C849.7,572.4 850.6,577.6 852.6,581.7C854.6,585.7 856.8,589.7 859.6,593.8C862.5,597.8 866.0,602.2 869.7,605.9C873.4,609.6 878.9,613.3 881.8,616.0C884.8,618.7 885.2,617.5 887.3,622.1C889.4,626.7 892.5,636.8 894.5,643.6C896.5,650.3 896.9,656.7 899.3,662.7C901.7,668.6 905.6,676.4 908.8,679.4C912.0,682.3 914.0,681.7 918.3,680.6C922.7,679.4 929.5,675.2 935.0,672.2C940.6,669.2 945.8,666.2 951.7,662.7C957.7,659.1 964.9,654.7 970.8,650.7C976.8,646.8 983.5,642.4 987.5,638.8C991.5,635.2 993.3,634.0 994.7,629.3C996.1,624.5 995.5,616.9 995.9,610.2C996.3,603.4 996.5,595.9 997.1,588.7C997.7,581.6 996.5,573.6 999.4,567.2C1002.4,560.9 1011.8,554.9 1015.0,550.6C1018.1,546.2 1016.3,543.8 1018.5,541.0C1020.7,538.2 1020.1,556.8 1028.1,533.9C1036.0,510.9 1067.8,448.8 1066.2,403.1C1064.6,357.5 1066.2,287.8 1018.5,260.0C970.8,232.2 853.5,232.2 780.0,236.1C706.5,240.1 615.6,254.4 577.7,283.9C539.8,313.3 557.4,388.8 552.7,412.7Z" fill="none" stroke="url(#e2)" stroke-width="14"/><path d="M552.7,412.7C547.9,436.5 547.7,420.6 549.1,427.0C550.5,433.3 557.2,442.9 561.0,450.8C564.8,458.8 568.6,466.7 571.7,474.7C574.9,482.6 578.1,492.6 580.1,498.5C582.1,504.4 581.7,505.7 583.7,510.0C585.7,514.3 587.8,520.1 592.0,524.3C596.2,528.5 603.1,532.7 608.7,535.0C614.3,537.4 619.4,538.0 625.4,538.6C631.4,539.2 638.1,537.4 644.5,538.6C650.9,539.8 658.8,543.0 663.6,545.8C668.3,548.6 672.3,551.7 673.1,555.3C673.9,558.9 669.5,562.9 668.3,567.2C667.2,571.6 665.2,576.4 666.0,581.6C666.8,586.7 670.3,593.9 673.1,598.3C675.9,602.6 679.9,603.8 682.7,607.8C685.4,611.8 689.0,616.1 689.8,622.1C690.6,628.1 688.2,636.4 687.4,643.6C686.6,650.7 685.6,657.1 685.0,665.0C684.4,673.0 684.3,683.3 683.9,691.3C683.5,699.2 682.1,706.4 682.7,712.8C683.3,719.1 685.0,725.1 687.4,729.4C689.8,733.8 693.0,736.4 697.0,739.0C700.9,741.6 706.9,743.8 711.3,745.0C715.7,746.1 720.0,747.9 723.2,746.1C726.4,744.4 727.6,737.8 730.4,734.2C733.1,730.6 737.1,727.9 739.9,724.7C742.7,721.5 746.7,719.1 747.1,715.1C747.5,711.2 742.7,705.6 742.3,700.8C741.9,696.1 743.1,691.3 744.7,686.5C746.3,681.7 749.4,677.0 751.8,672.2C754.2,667.4 756.2,662.7 759.0,657.9C761.8,653.1 765.0,648.7 768.5,643.6C772.1,638.4 776.0,630.8 780.5,626.9C784.9,622.9 792.9,624.1 795.0,620.0C797.1,615.8 793.0,607.2 793.0,601.8C793.0,596.5 793.7,592.4 795.0,587.7C796.4,583.0 798.4,577.3 801.1,573.6C803.8,569.9 807.2,567.2 811.2,565.5C815.2,563.8 820.6,563.7 825.3,563.5C830.0,563.3 835.7,563.5 839.4,564.5C843.1,565.5 845.3,566.7 847.5,569.5C849.7,572.4 850.6,577.6 852.6,581.7C854.6,585.7 856.8,589.7 859.6,593.8C862.5,597.8 866.0,602.2 869.7,605.9C873.4,609.6 878.9,613.3 881.8,616.0C884.8,618.7 885.2,617.5 887.3,622.1C889.4,626.7 892.5,636.8 894.5,643.6C896.5,650.3 896.9,656.7 899.3,662.7C901.7,668.6 905.6,676.4 908.8,679.4C912.0,682.3 914.0,681.7 918.3,680.6C922.7,679.4 929.5,675.2 935.0,672.2C940.6,669.2 945.8,666.2 951.7,662.7C957.7,659.1 964.9,654.7 970.8,650.7C976.8,646.8 983.5,642.4 987.5,638.8C991.5,635.2 993.3,634.0 994.7,629.3C996.1,624.5 995.5,616.9 995.9,610.2C996.3,603.4 996.5,595.9 997.1,588.7C997.7,581.6 996.5,573.6 999.4,567.2C1002.4,560.9 1011.8,554.9 1015.0,550.6C1018.1,546.2 1016.3,543.8 1018.5,541.0C1020.7,538.2 1020.1,556.8 1028.1,533.9C1036.0,510.9 1067.8,448.8 1066.2,403.1C1064.6,357.5 1066.2,287.8 1018.5,260.0C970.8,232.2 853.5,232.2 780.0,236.1C706.5,240.1 615.6,254.4 577.7,283.9C539.8,313.3 557.4,388.8 552.7,412.7Z" fill="none" stroke="url(#e3)" stroke-width="24"/>
<path d="M530.0,524.3C531.2,504.0 533.2,527.1 537.2,531.5C541.1,535.8 548.3,545.0 553.9,550.6C559.4,556.1 564.6,560.1 570.6,564.9C576.5,569.6 582.9,576.0 589.6,579.2C596.4,582.4 606.3,581.6 611.1,583.9C615.9,586.3 615.9,589.1 618.3,593.5C620.6,597.9 622.6,605.0 625.4,610.2C628.2,615.4 633.0,618.9 635.0,624.5C636.9,630.1 637.1,636.8 637.3,643.6C637.5,650.3 636.3,657.9 636.1,665.0C635.9,672.2 636.1,679.0 636.1,686.5C636.1,694.1 641.9,704.0 636.1,710.4C630.4,716.7 619.3,734.2 601.6,724.7C583.9,715.1 541.9,686.5 530.0,653.1C518.1,619.7 528.8,544.6 530.0,524.3Z" fill="#60cac6"/><path d="M530.0,524.3C531.2,504.0 533.2,527.1 537.2,531.5C541.1,535.8 548.3,545.0 553.9,550.6C559.4,556.1 564.6,560.1 570.6,564.9C576.5,569.6 582.9,576.0 589.6,579.2C596.4,582.4 606.3,581.6 611.1,583.9C615.9,586.3 615.9,589.1 618.3,593.5C620.6,597.9 622.6,605.0 625.4,610.2C628.2,615.4 633.0,618.9 635.0,624.5C636.9,630.1 637.1,636.8 637.3,643.6C637.5,650.3 636.3,657.9 636.1,665.0C635.9,672.2 636.1,679.0 636.1,686.5C636.1,694.1 641.9,704.0 636.1,710.4C630.4,716.7 619.3,734.2 601.6,724.7C583.9,715.1 541.9,686.5 530.0,653.1C518.1,619.7 528.8,544.6 530.0,524.3Z" fill="none" stroke="url(#e1)" stroke-width="6"/><path d="M530.0,524.3C531.2,504.0 533.2,527.1 537.2,531.5C541.1,535.8 548.3,545.0 553.9,550.6C559.4,556.1 564.6,560.1 570.6,564.9C576.5,569.6 582.9,576.0 589.6,579.2C596.4,582.4 606.3,581.6 611.1,583.9C615.9,586.3 615.9,589.1 618.3,593.5C620.6,597.9 622.6,605.0 625.4,610.2C628.2,615.4 633.0,618.9 635.0,624.5C636.9,630.1 637.1,636.8 637.3,643.6C637.5,650.3 636.3,657.9 636.1,665.0C635.9,672.2 636.1,679.0 636.1,686.5C636.1,694.1 641.9,704.0 636.1,710.4C630.4,716.7 619.3,734.2 601.6,724.7C583.9,715.1 541.9,686.5 530.0,653.1C518.1,619.7 528.8,544.6 530.0,524.3Z" fill="none" stroke="url(#e2)" stroke-width="14"/><path d="M530.0,524.3C531.2,504.0 533.2,527.1 537.2,531.5C541.1,535.8 548.3,545.0 553.9,550.6C559.4,556.1 564.6,560.1 570.6,564.9C576.5,569.6 582.9,576.0 589.6,579.2C596.4,582.4 606.3,581.6 611.1,583.9C615.9,586.3 615.9,589.1 618.3,593.5C620.6,597.9 622.6,605.0 625.4,610.2C628.2,615.4 633.0,618.9 635.0,624.5C636.9,630.1 637.1,636.8 637.3,643.6C637.5,650.3 636.3,657.9 636.1,665.0C635.9,672.2 636.1,679.0 636.1,686.5C636.1,694.1 641.9,704.0 636.1,710.4C630.4,716.7 619.3,734.2 601.6,724.7C583.9,715.1 541.9,686.5 530.0,653.1C518.1,619.7 528.8,544.6 530.0,524.3Z" fill="none" stroke="url(#e3)" stroke-width="24"/>
<path d="M552.7,412.7C547.9,436.5 547.7,420.6 549.1,427.0C550.5,433.3 557.2,442.9 561.0,450.8C564.8,458.8 568.6,466.7 571.7,474.7C574.9,482.6 578.1,492.6 580.1,498.5C582.1,504.4 581.7,505.7 583.7,510.0C585.7,514.3 587.8,520.1 592.0,524.3C596.2,528.5 603.1,532.7 608.7,535.0C614.3,537.4 619.4,538.0 625.4,538.6C631.4,539.2 638.1,537.4 644.5,538.6C650.9,539.8 658.8,543.0 663.6,545.8C668.3,548.6 672.3,551.7 673.1,555.3C673.9,558.9 669.5,562.9 668.3,567.2C667.2,571.6 665.2,576.4 666.0,581.6C666.8,586.7 670.3,593.9 673.1,598.3C675.9,602.6 679.9,603.8 682.7,607.8C685.4,611.8 689.0,616.1 689.8,622.1C690.6,628.1 688.2,636.4 687.4,643.6C686.6,650.7 685.6,657.1 685.0,665.0C684.4,673.0 684.3,683.3 683.9,691.3C683.5,699.2 682.1,706.4 682.7,712.8C683.3,719.1 685.0,725.1 687.4,729.4C689.8,733.8 693.0,736.4 697.0,739.0C700.9,741.6 706.9,743.8 711.3,745.0C715.7,746.1 720.0,747.9 723.2,746.1C726.4,744.4 727.6,737.8 730.4,734.2C733.1,730.6 737.1,727.9 739.9,724.7C742.7,721.5 746.7,719.1 747.1,715.1C747.5,711.2 742.7,705.6 742.3,700.8C741.9,696.1 743.1,691.3 744.7,686.5C746.3,681.7 749.4,677.0 751.8,672.2C754.2,667.4 756.2,662.7 759.0,657.9C761.8,653.1 765.0,648.7 768.5,643.6C772.1,638.4 776.0,630.8 780.5,626.9C784.9,622.9 792.9,624.1 795.0,620.0C797.1,615.8 793.0,607.2 793.0,601.8C793.0,596.5 793.7,592.4 795.0,587.7C796.4,583.0 798.4,577.3 801.1,573.6C803.8,569.9 807.2,567.2 811.2,565.5C815.2,563.8 820.6,563.7 825.3,563.5C830.0,563.3 835.7,563.5 839.4,564.5C843.1,565.5 845.3,566.7 847.5,569.5C849.7,572.4 850.6,577.6 852.6,581.7C854.6,585.7 856.8,589.7 859.6,593.8C862.5,597.8 866.0,602.2 869.7,605.9C873.4,609.6 878.9,613.3 881.8,616.0C884.8,618.7 885.2,617.5 887.3,622.1C889.4,626.7 892.5,636.8 894.5,643.6C896.5,650.3 896.9,656.7 899.3,662.7C901.7,668.6 905.6,676.4 908.8,679.4C912.0,682.3 914.0,681.7 918.3,680.6C922.7,679.4 929.5,675.2 935.0,672.2C940.6,669.2 945.8,666.2 951.7,662.7C957.7,659.1 964.9,654.7 970.8,650.7C976.8,646.8 983.5,642.4 987.5,638.8C991.5,635.2 993.3,634.0 994.7,629.3C996.1,624.5 995.5,616.9 995.9,610.2C996.3,603.4 996.5,595.9 997.1,588.7C997.7,581.6 996.5,573.6 999.4,567.2C1002.4,560.9 1011.8,554.9 1015.0,550.6C1018.1,546.2 1016.3,543.8 1018.5,541.0C1020.7,538.2 1020.1,556.8 1028.1,533.9C1036.0,510.9 1067.8,448.8 1066.2,403.1C1064.6,357.5 1066.2,287.8 1018.5,260.0C970.8,232.2 853.5,232.2 780.0,236.1C706.5,240.1 615.6,254.4 577.7,283.9C539.8,313.3 557.4,388.8 552.7,412.7Z" fill="url(#hs)"/>
<path d="M530.0,524.3C531.2,504.0 533.2,527.1 537.2,531.5C541.1,535.8 548.3,545.0 553.9,550.6C559.4,556.1 564.6,560.1 570.6,564.9C576.5,569.6 582.9,576.0 589.6,579.2C596.4,582.4 606.3,581.6 611.1,583.9C615.9,586.3 615.9,589.1 618.3,593.5C620.6,597.9 622.6,605.0 625.4,610.2C628.2,615.4 633.0,618.9 635.0,624.5C636.9,630.1 637.1,636.8 637.3,643.6C637.5,650.3 636.3,657.9 636.1,665.0C635.9,672.2 636.1,679.0 636.1,686.5C636.1,694.1 641.9,704.0 636.1,710.4C630.4,716.7 619.3,734.2 601.6,724.7C583.9,715.1 541.9,686.5 530.0,653.1C518.1,619.7 528.8,544.6 530.0,524.3Z" fill="url(#hs)"/>
<path d="M552.7,412.7C547.9,436.5 547.7,420.6 549.1,427.0C550.5,433.3 557.2,442.9 561.0,450.8C564.8,458.8 568.6,466.7 571.7,474.7C574.9,482.6 578.1,492.6 580.1,498.5C582.1,504.4 581.7,505.7 583.7,510.0C585.7,514.3 587.8,520.1 592.0,524.3C596.2,528.5 603.1,532.7 608.7,535.0C614.3,537.4 619.4,538.0 625.4,538.6C631.4,539.2 638.1,537.4 644.5,538.6C650.9,539.8 658.8,543.0 663.6,545.8C668.3,548.6 672.3,551.7 673.1,555.3C673.9,558.9 669.5,562.9 668.3,567.2C667.2,571.6 665.2,576.4 666.0,581.6C666.8,586.7 670.3,593.9 673.1,598.3C675.9,602.6 679.9,603.8 682.7,607.8C685.4,611.8 689.0,616.1 689.8,622.1C690.6,628.1 688.2,636.4 687.4,643.6C686.6,650.7 685.6,657.1 685.0,665.0C684.4,673.0 684.3,683.3 683.9,691.3C683.5,699.2 682.1,706.4 682.7,712.8C683.3,719.1 685.0,725.1 687.4,729.4C689.8,733.8 693.0,736.4 697.0,739.0C700.9,741.6 706.9,743.8 711.3,745.0C715.7,746.1 720.0,747.9 723.2,746.1C726.4,744.4 727.6,737.8 730.4,734.2C733.1,730.6 737.1,727.9 739.9,724.7C742.7,721.5 746.7,719.1 747.1,715.1C747.5,711.2 742.7,705.6 742.3,700.8C741.9,696.1 743.1,691.3 744.7,686.5C746.3,681.7 749.4,677.0 751.8,672.2C754.2,667.4 756.2,662.7 759.0,657.9C761.8,653.1 765.0,648.7 768.5,643.6C772.1,638.4 776.0,630.8 780.5,626.9C784.9,622.9 792.9,624.1 795.0,620.0C797.1,615.8 793.0,607.2 793.0,601.8C793.0,596.5 793.7,592.4 795.0,587.7C796.4,583.0 798.4,577.3 801.1,573.6C803.8,569.9 807.2,567.2 811.2,565.5C815.2,563.8 820.6,563.7 825.3,563.5C830.0,563.3 835.7,563.5 839.4,564.5C843.1,565.5 845.3,566.7 847.5,569.5C849.7,572.4 850.6,577.6 852.6,581.7C854.6,585.7 856.8,589.7 859.6,593.8C862.5,597.8 866.0,602.2 869.7,605.9C873.4,609.6 878.9,613.3 881.8,616.0C884.8,618.7 885.2,617.5 887.3,622.1C889.4,626.7 892.5,636.8 894.5,643.6C896.5,650.3 896.9,656.7 899.3,662.7C901.7,668.6 905.6,676.4 908.8,679.4C912.0,682.3 914.0,681.7 918.3,680.6C922.7,679.4 929.5,675.2 935.0,672.2C940.6,669.2 945.8,666.2 951.7,662.7C957.7,659.1 964.9,654.7 970.8,650.7C976.8,646.8 983.5,642.4 987.5,638.8C991.5,635.2 993.3,634.0 994.7,629.3C996.1,624.5 995.5,616.9 995.9,610.2C996.3,603.4 996.5,595.9 997.1,588.7C997.7,581.6 996.5,573.6 999.4,567.2C1002.4,560.9 1011.8,554.9 1015.0,550.6C1018.1,546.2 1016.3,543.8 1018.5,541.0C1020.7,538.2 1020.1,556.8 1028.1,533.9C1036.0,510.9 1067.8,448.8 1066.2,403.1C1064.6,357.5 1066.2,287.8 1018.5,260.0C970.8,232.2 853.5,232.2 780.0,236.1C706.5,240.1 615.6,254.4 577.7,283.9C539.8,313.3 557.4,388.8 552.7,412.7Z" fill="none" stroke="url(#d1)" stroke-width="6"/><path d="M552.7,412.7C547.9,436.5 547.7,420.6 549.1,427.0C550.5,433.3 557.2,442.9 561.0,450.8C564.8,458.8 568.6,466.7 571.7,474.7C574.9,482.6 578.1,492.6 580.1,498.5C582.1,504.4 581.7,505.7 583.7,510.0C585.7,514.3 587.8,520.1 592.0,524.3C596.2,528.5 603.1,532.7 608.7,535.0C614.3,537.4 619.4,538.0 625.4,538.6C631.4,539.2 638.1,537.4 644.5,538.6C650.9,539.8 658.8,543.0 663.6,545.8C668.3,548.6 672.3,551.7 673.1,555.3C673.9,558.9 669.5,562.9 668.3,567.2C667.2,571.6 665.2,576.4 666.0,581.6C666.8,586.7 670.3,593.9 673.1,598.3C675.9,602.6 679.9,603.8 682.7,607.8C685.4,611.8 689.0,616.1 689.8,622.1C690.6,628.1 688.2,636.4 687.4,643.6C686.6,650.7 685.6,657.1 685.0,665.0C684.4,673.0 684.3,683.3 683.9,691.3C683.5,699.2 682.1,706.4 682.7,712.8C683.3,719.1 685.0,725.1 687.4,729.4C689.8,733.8 693.0,736.4 697.0,739.0C700.9,741.6 706.9,743.8 711.3,745.0C715.7,746.1 720.0,747.9 723.2,746.1C726.4,744.4 727.6,737.8 730.4,734.2C733.1,730.6 737.1,727.9 739.9,724.7C742.7,721.5 746.7,719.1 747.1,715.1C747.5,711.2 742.7,705.6 742.3,700.8C741.9,696.1 743.1,691.3 744.7,686.5C746.3,681.7 749.4,677.0 751.8,672.2C754.2,667.4 756.2,662.7 759.0,657.9C761.8,653.1 765.0,648.7 768.5,643.6C772.1,638.4 776.0,630.8 780.5,626.9C784.9,622.9 792.9,624.1 795.0,620.0C797.1,615.8 793.0,607.2 793.0,601.8C793.0,596.5 793.7,592.4 795.0,587.7C796.4,583.0 798.4,577.3 801.1,573.6C803.8,569.9 807.2,567.2 811.2,565.5C815.2,563.8 820.6,563.7 825.3,563.5C830.0,563.3 835.7,563.5 839.4,564.5C843.1,565.5 845.3,566.7 847.5,569.5C849.7,572.4 850.6,577.6 852.6,581.7C854.6,585.7 856.8,589.7 859.6,593.8C862.5,597.8 866.0,602.2 869.7,605.9C873.4,609.6 878.9,613.3 881.8,616.0C884.8,618.7 885.2,617.5 887.3,622.1C889.4,626.7 892.5,636.8 894.5,643.6C896.5,650.3 896.9,656.7 899.3,662.7C901.7,668.6 905.6,676.4 908.8,679.4C912.0,682.3 914.0,681.7 918.3,680.6C922.7,679.4 929.5,675.2 935.0,672.2C940.6,669.2 945.8,666.2 951.7,662.7C957.7,659.1 964.9,654.7 970.8,650.7C976.8,646.8 983.5,642.4 987.5,638.8C991.5,635.2 993.3,634.0 994.7,629.3C996.1,624.5 995.5,616.9 995.9,610.2C996.3,603.4 996.5,595.9 997.1,588.7C997.7,581.6 996.5,573.6 999.4,567.2C1002.4,560.9 1011.8,554.9 1015.0,550.6C1018.1,546.2 1016.3,543.8 1018.5,541.0C1020.7,538.2 1020.1,556.8 1028.1,533.9C1036.0,510.9 1067.8,448.8 1066.2,403.1C1064.6,357.5 1066.2,287.8 1018.5,260.0C970.8,232.2 853.5,232.2 780.0,236.1C706.5,240.1 615.6,254.4 577.7,283.9C539.8,313.3 557.4,388.8 552.7,412.7Z" fill="none" stroke="url(#d2)" stroke-width="14"/><path d="M552.7,412.7C547.9,436.5 547.7,420.6 549.1,427.0C550.5,433.3 557.2,442.9 561.0,450.8C564.8,458.8 568.6,466.7 571.7,474.7C574.9,482.6 578.1,492.6 580.1,498.5C582.1,504.4 581.7,505.7 583.7,510.0C585.7,514.3 587.8,520.1 592.0,524.3C596.2,528.5 603.1,532.7 608.7,535.0C614.3,537.4 619.4,538.0 625.4,538.6C631.4,539.2 638.1,537.4 644.5,538.6C650.9,539.8 658.8,543.0 663.6,545.8C668.3,548.6 672.3,551.7 673.1,555.3C673.9,558.9 669.5,562.9 668.3,567.2C667.2,571.6 665.2,576.4 666.0,581.6C666.8,586.7 670.3,593.9 673.1,598.3C675.9,602.6 679.9,603.8 682.7,607.8C685.4,611.8 689.0,616.1 689.8,622.1C690.6,628.1 688.2,636.4 687.4,643.6C686.6,650.7 685.6,657.1 685.0,665.0C684.4,673.0 684.3,683.3 683.9,691.3C683.5,699.2 682.1,706.4 682.7,712.8C683.3,719.1 685.0,725.1 687.4,729.4C689.8,733.8 693.0,736.4 697.0,739.0C700.9,741.6 706.9,743.8 711.3,745.0C715.7,746.1 720.0,747.9 723.2,746.1C726.4,744.4 727.6,737.8 730.4,734.2C733.1,730.6 737.1,727.9 739.9,724.7C742.7,721.5 746.7,719.1 747.1,715.1C747.5,711.2 742.7,705.6 742.3,700.8C741.9,696.1 743.1,691.3 744.7,686.5C746.3,681.7 749.4,677.0 751.8,672.2C754.2,667.4 756.2,662.7 759.0,657.9C761.8,653.1 765.0,648.7 768.5,643.6C772.1,638.4 776.0,630.8 780.5,626.9C784.9,622.9 792.9,624.1 795.0,620.0C797.1,615.8 793.0,607.2 793.0,601.8C793.0,596.5 793.7,592.4 795.0,587.7C796.4,583.0 798.4,577.3 801.1,573.6C803.8,569.9 807.2,567.2 811.2,565.5C815.2,563.8 820.6,563.7 825.3,563.5C830.0,563.3 835.7,563.5 839.4,564.5C843.1,565.5 845.3,566.7 847.5,569.5C849.7,572.4 850.6,577.6 852.6,581.7C854.6,585.7 856.8,589.7 859.6,593.8C862.5,597.8 866.0,602.2 869.7,605.9C873.4,609.6 878.9,613.3 881.8,616.0C884.8,618.7 885.2,617.5 887.3,622.1C889.4,626.7 892.5,636.8 894.5,643.6C896.5,650.3 896.9,656.7 899.3,662.7C901.7,668.6 905.6,676.4 908.8,679.4C912.0,682.3 914.0,681.7 918.3,680.6C922.7,679.4 929.5,675.2 935.0,672.2C940.6,669.2 945.8,666.2 951.7,662.7C957.7,659.1 964.9,654.7 970.8,650.7C976.8,646.8 983.5,642.4 987.5,638.8C991.5,635.2 993.3,634.0 994.7,629.3C996.1,624.5 995.5,616.9 995.9,610.2C996.3,603.4 996.5,595.9 997.1,588.7C997.7,581.6 996.5,573.6 999.4,567.2C1002.4,560.9 1011.8,554.9 1015.0,550.6C1018.1,546.2 1016.3,543.8 1018.5,541.0C1020.7,538.2 1020.1,556.8 1028.1,533.9C1036.0,510.9 1067.8,448.8 1066.2,403.1C1064.6,357.5 1066.2,287.8 1018.5,260.0C970.8,232.2 853.5,232.2 780.0,236.1C706.5,240.1 615.6,254.4 577.7,283.9C539.8,313.3 557.4,388.8 552.7,412.7Z" fill="none" stroke="url(#d3)" stroke-width="24"/>
<path d="M530.0,524.3C531.2,504.0 533.2,527.1 537.2,531.5C541.1,535.8 548.3,545.0 553.9,550.6C559.4,556.1 564.6,560.1 570.6,564.9C576.5,569.6 582.9,576.0 589.6,579.2C596.4,582.4 606.3,581.6 611.1,583.9C615.9,586.3 615.9,589.1 618.3,593.5C620.6,597.9 622.6,605.0 625.4,610.2C628.2,615.4 633.0,618.9 635.0,624.5C636.9,630.1 637.1,636.8 637.3,643.6C637.5,650.3 636.3,657.9 636.1,665.0C635.9,672.2 636.1,679.0 636.1,686.5C636.1,694.1 641.9,704.0 636.1,710.4C630.4,716.7 619.3,734.2 601.6,724.7C583.9,715.1 541.9,686.5 530.0,653.1C518.1,619.7 528.8,544.6 530.0,524.3Z" fill="none" stroke="url(#d1)" stroke-width="6"/><path d="M530.0,524.3C531.2,504.0 533.2,527.1 537.2,531.5C541.1,535.8 548.3,545.0 553.9,550.6C559.4,556.1 564.6,560.1 570.6,564.9C576.5,569.6 582.9,576.0 589.6,579.2C596.4,582.4 606.3,581.6 611.1,583.9C615.9,586.3 615.9,589.1 618.3,593.5C620.6,597.9 622.6,605.0 625.4,610.2C628.2,615.4 633.0,618.9 635.0,624.5C636.9,630.1 637.1,636.8 637.3,643.6C637.5,650.3 636.3,657.9 636.1,665.0C635.9,672.2 636.1,679.0 636.1,686.5C636.1,694.1 641.9,704.0 636.1,710.4C630.4,716.7 619.3,734.2 601.6,724.7C583.9,715.1 541.9,686.5 530.0,653.1C518.1,619.7 528.8,544.6 530.0,524.3Z" fill="none" stroke="url(#d2)" stroke-width="14"/><path d="M530.0,524.3C531.2,504.0 533.2,527.1 537.2,531.5C541.1,535.8 548.3,545.0 553.9,550.6C559.4,556.1 564.6,560.1 570.6,564.9C576.5,569.6 582.9,576.0 589.6,579.2C596.4,582.4 606.3,581.6 611.1,583.9C615.9,586.3 615.9,589.1 618.3,593.5C620.6,597.9 622.6,605.0 625.4,610.2C628.2,615.4 633.0,618.9 635.0,624.5C636.9,630.1 637.1,636.8 637.3,643.6C637.5,650.3 636.3,657.9 636.1,665.0C635.9,672.2 636.1,679.0 636.1,686.5C636.1,694.1 641.9,704.0 636.1,710.4C630.4,716.7 619.3,734.2 601.6,724.7C583.9,715.1 541.9,686.5 530.0,653.1C518.1,619.7 528.8,544.6 530.0,524.3Z" fill="none" stroke="url(#d3)" stroke-width="24"/>
<path d="M839.6,248.1C831.7,247.1 840.0,270.7 839.6,277.9C839.2,285.0 838.6,286.0 837.2,291.0C835.9,296.0 833.3,302.5 831.3,307.7C829.3,312.9 827.5,316.9 825.3,322.0C823.1,327.2 821.7,333.9 818.2,338.7C814.6,343.5 808.6,347.1 803.9,350.6C799.1,354.2 793.5,357.8 789.5,360.2C785.6,362.6 781.9,363.0 780.0,365.0C778.1,366.9 780.0,368.1 778.1,372.1C776.2,376.1 771.4,384.2 768.5,388.8C765.6,393.5 762.5,395.4 760.7,400.0C758.9,404.6 758.2,411.1 757.7,416.1C757.2,421.2 759.2,426.9 757.7,430.3C756.2,433.6 752.8,434.8 748.6,436.3C744.4,437.8 737.2,438.0 732.5,439.4C727.8,440.7 724.1,441.5 720.4,444.4C716.7,447.3 713.0,452.1 710.3,456.5C707.6,460.9 705.6,465.9 704.2,470.6C702.9,475.4 702.0,479.7 702.2,484.8C702.4,489.8 703.5,495.9 705.2,500.9C706.9,506.0 709.3,510.7 712.3,515.0C715.3,519.4 719.4,524.0 723.4,527.2C727.4,530.4 732.0,532.4 736.5,534.2C741.1,536.1 745.9,537.6 750.6,538.3C755.4,538.9 760.4,539.1 764.8,538.3C769.1,537.4 772.8,535.7 776.9,533.2C780.9,530.7 785.3,526.3 789.0,523.1C792.7,519.9 795.7,517.4 799.1,514.0C802.4,510.7 805.5,506.3 809.2,502.9C812.9,499.6 817.2,496.5 821.3,493.9C825.3,491.2 830.0,489.6 833.4,486.8C836.8,483.9 840.5,480.1 841.5,476.7C842.5,473.3 840.0,470.0 839.4,466.6C838.9,463.2 837.8,459.9 838.4,456.5C839.1,453.1 842.3,449.4 843.5,446.4C844.7,443.4 845.8,441.4 845.5,438.3C845.2,435.3 841.5,431.3 841.5,428.3C841.5,425.2 843.5,422.5 845.5,420.2C847.5,417.8 851.2,416.5 853.6,414.1C855.9,411.8 858.3,408.4 859.6,406.1C861.0,403.7 861.4,402.9 861.7,400.0C861.9,397.1 861.0,393.5 861.1,388.8C861.2,384.2 861.1,377.3 862.3,372.1C863.5,366.9 865.9,363.0 868.3,357.8C870.6,352.6 874.2,346.7 876.6,341.1C879.0,335.5 881.2,329.4 882.6,324.4C884.0,319.4 884.2,318.0 885.0,311.3C885.7,304.5 894.9,294.4 887.3,283.9C879.8,273.3 847.6,249.1 839.6,248.1Z" fill="none" stroke="url(#d1)" stroke-width="6"/><path d="M839.6,248.1C831.7,247.1 840.0,270.7 839.6,277.9C839.2,285.0 838.6,286.0 837.2,291.0C835.9,296.0 833.3,302.5 831.3,307.7C829.3,312.9 827.5,316.9 825.3,322.0C823.1,327.2 821.7,333.9 818.2,338.7C814.6,343.5 808.6,347.1 803.9,350.6C799.1,354.2 793.5,357.8 789.5,360.2C785.6,362.6 781.9,363.0 780.0,365.0C778.1,366.9 780.0,368.1 778.1,372.1C776.2,376.1 771.4,384.2 768.5,388.8C765.6,393.5 762.5,395.4 760.7,400.0C758.9,404.6 758.2,411.1 757.7,416.1C757.2,421.2 759.2,426.9 757.7,430.3C756.2,433.6 752.8,434.8 748.6,436.3C744.4,437.8 737.2,438.0 732.5,439.4C727.8,440.7 724.1,441.5 720.4,444.4C716.7,447.3 713.0,452.1 710.3,456.5C707.6,460.9 705.6,465.9 704.2,470.6C702.9,475.4 702.0,479.7 702.2,484.8C702.4,489.8 703.5,495.9 705.2,500.9C706.9,506.0 709.3,510.7 712.3,515.0C715.3,519.4 719.4,524.0 723.4,527.2C727.4,530.4 732.0,532.4 736.5,534.2C741.1,536.1 745.9,537.6 750.6,538.3C755.4,538.9 760.4,539.1 764.8,538.3C769.1,537.4 772.8,535.7 776.9,533.2C780.9,530.7 785.3,526.3 789.0,523.1C792.7,519.9 795.7,517.4 799.1,514.0C802.4,510.7 805.5,506.3 809.2,502.9C812.9,499.6 817.2,496.5 821.3,493.9C825.3,491.2 830.0,489.6 833.4,486.8C836.8,483.9 840.5,480.1 841.5,476.7C842.5,473.3 840.0,470.0 839.4,466.6C838.9,463.2 837.8,459.9 838.4,456.5C839.1,453.1 842.3,449.4 843.5,446.4C844.7,443.4 845.8,441.4 845.5,438.3C845.2,435.3 841.5,431.3 841.5,428.3C841.5,425.2 843.5,422.5 845.5,420.2C847.5,417.8 851.2,416.5 853.6,414.1C855.9,411.8 858.3,408.4 859.6,406.1C861.0,403.7 861.4,402.9 861.7,400.0C861.9,397.1 861.0,393.5 861.1,388.8C861.2,384.2 861.1,377.3 862.3,372.1C863.5,366.9 865.9,363.0 868.3,357.8C870.6,352.6 874.2,346.7 876.6,341.1C879.0,335.5 881.2,329.4 882.6,324.4C884.0,319.4 884.2,318.0 885.0,311.3C885.7,304.5 894.9,294.4 887.3,283.9C879.8,273.3 847.6,249.1 839.6,248.1Z" fill="none" stroke="url(#d2)" stroke-width="14"/><path d="M839.6,248.1C831.7,247.1 840.0,270.7 839.6,277.9C839.2,285.0 838.6,286.0 837.2,291.0C835.9,296.0 833.3,302.5 831.3,307.7C829.3,312.9 827.5,316.9 825.3,322.0C823.1,327.2 821.7,333.9 818.2,338.7C814.6,343.5 808.6,347.1 803.9,350.6C799.1,354.2 793.5,357.8 789.5,360.2C785.6,362.6 781.9,363.0 780.0,365.0C778.1,366.9 780.0,368.1 778.1,372.1C776.2,376.1 771.4,384.2 768.5,388.8C765.6,393.5 762.5,395.4 760.7,400.0C758.9,404.6 758.2,411.1 757.7,416.1C757.2,421.2 759.2,426.9 757.7,430.3C756.2,433.6 752.8,434.8 748.6,436.3C744.4,437.8 737.2,438.0 732.5,439.4C727.8,440.7 724.1,441.5 720.4,444.4C716.7,447.3 713.0,452.1 710.3,456.5C707.6,460.9 705.6,465.9 704.2,470.6C702.9,475.4 702.0,479.7 702.2,484.8C702.4,489.8 703.5,495.9 705.2,500.9C706.9,506.0 709.3,510.7 712.3,515.0C715.3,519.4 719.4,524.0 723.4,527.2C727.4,530.4 732.0,532.4 736.5,534.2C741.1,536.1 745.9,537.6 750.6,538.3C755.4,538.9 760.4,539.1 764.8,538.3C769.1,537.4 772.8,535.7 776.9,533.2C780.9,530.7 785.3,526.3 789.0,523.1C792.7,519.9 795.7,517.4 799.1,514.0C802.4,510.7 805.5,506.3 809.2,502.9C812.9,499.6 817.2,496.5 821.3,493.9C825.3,491.2 830.0,489.6 833.4,486.8C836.8,483.9 840.5,480.1 841.5,476.7C842.5,473.3 840.0,470.0 839.4,466.6C838.9,463.2 837.8,459.9 838.4,456.5C839.1,453.1 842.3,449.4 843.5,446.4C844.7,443.4 845.8,441.4 845.5,438.3C845.2,435.3 841.5,431.3 841.5,428.3C841.5,425.2 843.5,422.5 845.5,420.2C847.5,417.8 851.2,416.5 853.6,414.1C855.9,411.8 858.3,408.4 859.6,406.1C861.0,403.7 861.4,402.9 861.7,400.0C861.9,397.1 861.0,393.5 861.1,388.8C861.2,384.2 861.1,377.3 862.3,372.1C863.5,366.9 865.9,363.0 868.3,357.8C870.6,352.6 874.2,346.7 876.6,341.1C879.0,335.5 881.2,329.4 882.6,324.4C884.0,319.4 884.2,318.0 885.0,311.3C885.7,304.5 894.9,294.4 887.3,283.9C879.8,273.3 847.6,249.1 839.6,248.1Z" fill="none" stroke="url(#d3)" stroke-width="24"/>
<path d="M839.6,248.1C831.7,247.1 840.0,270.7 839.6,277.9C839.2,285.0 838.6,286.0 837.2,291.0C835.9,296.0 833.3,302.5 831.3,307.7C829.3,312.9 827.5,316.9 825.3,322.0C823.1,327.2 821.7,333.9 818.2,338.7C814.6,343.5 808.6,347.1 803.9,350.6C799.1,354.2 793.5,357.8 789.5,360.2C785.6,362.6 781.9,363.0 780.0,365.0C778.1,366.9 780.0,368.1 778.1,372.1C776.2,376.1 771.4,384.2 768.5,388.8C765.6,393.5 762.5,395.4 760.7,400.0C758.9,404.6 758.2,411.1 757.7,416.1C757.2,421.2 759.2,426.9 757.7,430.3C756.2,433.6 752.8,434.8 748.6,436.3C744.4,437.8 737.2,438.0 732.5,439.4C727.8,440.7 724.1,441.5 720.4,444.4C716.7,447.3 713.0,452.1 710.3,456.5C707.6,460.9 705.6,465.9 704.2,470.6C702.9,475.4 702.0,479.7 702.2,484.8C702.4,489.8 703.5,495.9 705.2,500.9C706.9,506.0 709.3,510.7 712.3,515.0C715.3,519.4 719.4,524.0 723.4,527.2C727.4,530.4 732.0,532.4 736.5,534.2C741.1,536.1 745.9,537.6 750.6,538.3C755.4,538.9 760.4,539.1 764.8,538.3C769.1,537.4 772.8,535.7 776.9,533.2C780.9,530.7 785.3,526.3 789.0,523.1C792.7,519.9 795.7,517.4 799.1,514.0C802.4,510.7 805.5,506.3 809.2,502.9C812.9,499.6 817.2,496.5 821.3,493.9C825.3,491.2 830.0,489.6 833.4,486.8C836.8,483.9 840.5,480.1 841.5,476.7C842.5,473.3 840.0,470.0 839.4,466.6C838.9,463.2 837.8,459.9 838.4,456.5C839.1,453.1 842.3,449.4 843.5,446.4C844.7,443.4 845.8,441.4 845.5,438.3C845.2,435.3 841.5,431.3 841.5,428.3C841.5,425.2 843.5,422.5 845.5,420.2C847.5,417.8 851.2,416.5 853.6,414.1C855.9,411.8 858.3,408.4 859.6,406.1C861.0,403.7 861.4,402.9 861.7,400.0C861.9,397.1 861.0,393.5 861.1,388.8C861.2,384.2 861.1,377.3 862.3,372.1C863.5,366.9 865.9,363.0 868.3,357.8C870.6,352.6 874.2,346.7 876.6,341.1C879.0,335.5 881.2,329.4 882.6,324.4C884.0,319.4 884.2,318.0 885.0,311.3C885.7,304.5 894.9,294.4 887.3,283.9C879.8,273.3 847.6,249.1 839.6,248.1Z" fill="#40bfbc"/>
<path d="M839.6,248.1C831.7,247.1 840.0,270.7 839.6,277.9C839.2,285.0 838.6,286.0 837.2,291.0C835.9,296.0 833.3,302.5 831.3,307.7C829.3,312.9 827.5,316.9 825.3,322.0C823.1,327.2 821.7,333.9 818.2,338.7C814.6,343.5 808.6,347.1 803.9,350.6C799.1,354.2 793.5,357.8 789.5,360.2C785.6,362.6 781.9,363.0 780.0,365.0C778.1,366.9 780.0,368.1 778.1,372.1C776.2,376.1 771.4,384.2 768.5,388.8C765.6,393.5 762.5,395.4 760.7,400.0C758.9,404.6 758.2,411.1 757.7,416.1C757.2,421.2 759.2,426.9 757.7,430.3C756.2,433.6 752.8,434.8 748.6,436.3C744.4,437.8 737.2,438.0 732.5,439.4C727.8,440.7 724.1,441.5 720.4,444.4C716.7,447.3 713.0,452.1 710.3,456.5C707.6,460.9 705.6,465.9 704.2,470.6C702.9,475.4 702.0,479.7 702.2,484.8C702.4,489.8 703.5,495.9 705.2,500.9C706.9,506.0 709.3,510.7 712.3,515.0C715.3,519.4 719.4,524.0 723.4,527.2C727.4,530.4 732.0,532.4 736.5,534.2C741.1,536.1 745.9,537.6 750.6,538.3C755.4,538.9 760.4,539.1 764.8,538.3C769.1,537.4 772.8,535.7 776.9,533.2C780.9,530.7 785.3,526.3 789.0,523.1C792.7,519.9 795.7,517.4 799.1,514.0C802.4,510.7 805.5,506.3 809.2,502.9C812.9,499.6 817.2,496.5 821.3,493.9C825.3,491.2 830.0,489.6 833.4,486.8C836.8,483.9 840.5,480.1 841.5,476.7C842.5,473.3 840.0,470.0 839.4,466.6C838.9,463.2 837.8,459.9 838.4,456.5C839.1,453.1 842.3,449.4 843.5,446.4C844.7,443.4 845.8,441.4 845.5,438.3C845.2,435.3 841.5,431.3 841.5,428.3C841.5,425.2 843.5,422.5 845.5,420.2C847.5,417.8 851.2,416.5 853.6,414.1C855.9,411.8 858.3,408.4 859.6,406.1C861.0,403.7 861.4,402.9 861.7,400.0C861.9,397.1 861.0,393.5 861.1,388.8C861.2,384.2 861.1,377.3 862.3,372.1C863.5,366.9 865.9,363.0 868.3,357.8C870.6,352.6 874.2,346.7 876.6,341.1C879.0,335.5 881.2,329.4 882.6,324.4C884.0,319.4 884.2,318.0 885.0,311.3C885.7,304.5 894.9,294.4 887.3,283.9C879.8,273.3 847.6,249.1 839.6,248.1Z" fill="none" stroke="url(#e1)" stroke-width="6"/><path d="M839.6,248.1C831.7,247.1 840.0,270.7 839.6,277.9C839.2,285.0 838.6,286.0 837.2,291.0C835.9,296.0 833.3,302.5 831.3,307.7C829.3,312.9 827.5,316.9 825.3,322.0C823.1,327.2 821.7,333.9 818.2,338.7C814.6,343.5 808.6,347.1 803.9,350.6C799.1,354.2 793.5,357.8 789.5,360.2C785.6,362.6 781.9,363.0 780.0,365.0C778.1,366.9 780.0,368.1 778.1,372.1C776.2,376.1 771.4,384.2 768.5,388.8C765.6,393.5 762.5,395.4 760.7,400.0C758.9,404.6 758.2,411.1 757.7,416.1C757.2,421.2 759.2,426.9 757.7,430.3C756.2,433.6 752.8,434.8 748.6,436.3C744.4,437.8 737.2,438.0 732.5,439.4C727.8,440.7 724.1,441.5 720.4,444.4C716.7,447.3 713.0,452.1 710.3,456.5C707.6,460.9 705.6,465.9 704.2,470.6C702.9,475.4 702.0,479.7 702.2,484.8C702.4,489.8 703.5,495.9 705.2,500.9C706.9,506.0 709.3,510.7 712.3,515.0C715.3,519.4 719.4,524.0 723.4,527.2C727.4,530.4 732.0,532.4 736.5,534.2C741.1,536.1 745.9,537.6 750.6,538.3C755.4,538.9 760.4,539.1 764.8,538.3C769.1,537.4 772.8,535.7 776.9,533.2C780.9,530.7 785.3,526.3 789.0,523.1C792.7,519.9 795.7,517.4 799.1,514.0C802.4,510.7 805.5,506.3 809.2,502.9C812.9,499.6 817.2,496.5 821.3,493.9C825.3,491.2 830.0,489.6 833.4,486.8C836.8,483.9 840.5,480.1 841.5,476.7C842.5,473.3 840.0,470.0 839.4,466.6C838.9,463.2 837.8,459.9 838.4,456.5C839.1,453.1 842.3,449.4 843.5,446.4C844.7,443.4 845.8,441.4 845.5,438.3C845.2,435.3 841.5,431.3 841.5,428.3C841.5,425.2 843.5,422.5 845.5,420.2C847.5,417.8 851.2,416.5 853.6,414.1C855.9,411.8 858.3,408.4 859.6,406.1C861.0,403.7 861.4,402.9 861.7,400.0C861.9,397.1 861.0,393.5 861.1,388.8C861.2,384.2 861.1,377.3 862.3,372.1C863.5,366.9 865.9,363.0 868.3,357.8C870.6,352.6 874.2,346.7 876.6,341.1C879.0,335.5 881.2,329.4 882.6,324.4C884.0,319.4 884.2,318.0 885.0,311.3C885.7,304.5 894.9,294.4 887.3,283.9C879.8,273.3 847.6,249.1 839.6,248.1Z" fill="none" stroke="url(#e2)" stroke-width="14"/><path d="M839.6,248.1C831.7,247.1 840.0,270.7 839.6,277.9C839.2,285.0 838.6,286.0 837.2,291.0C835.9,296.0 833.3,302.5 831.3,307.7C829.3,312.9 827.5,316.9 825.3,322.0C823.1,327.2 821.7,333.9 818.2,338.7C814.6,343.5 808.6,347.1 803.9,350.6C799.1,354.2 793.5,357.8 789.5,360.2C785.6,362.6 781.9,363.0 780.0,365.0C778.1,366.9 780.0,368.1 778.1,372.1C776.2,376.1 771.4,384.2 768.5,388.8C765.6,393.5 762.5,395.4 760.7,400.0C758.9,404.6 758.2,411.1 757.7,416.1C757.2,421.2 759.2,426.9 757.7,430.3C756.2,433.6 752.8,434.8 748.6,436.3C744.4,437.8 737.2,438.0 732.5,439.4C727.8,440.7 724.1,441.5 720.4,444.4C716.7,447.3 713.0,452.1 710.3,456.5C707.6,460.9 705.6,465.9 704.2,470.6C702.9,475.4 702.0,479.7 702.2,484.8C702.4,489.8 703.5,495.9 705.2,500.9C706.9,506.0 709.3,510.7 712.3,515.0C715.3,519.4 719.4,524.0 723.4,527.2C727.4,530.4 732.0,532.4 736.5,534.2C741.1,536.1 745.9,537.6 750.6,538.3C755.4,538.9 760.4,539.1 764.8,538.3C769.1,537.4 772.8,535.7 776.9,533.2C780.9,530.7 785.3,526.3 789.0,523.1C792.7,519.9 795.7,517.4 799.1,514.0C802.4,510.7 805.5,506.3 809.2,502.9C812.9,499.6 817.2,496.5 821.3,493.9C825.3,491.2 830.0,489.6 833.4,486.8C836.8,483.9 840.5,480.1 841.5,476.7C842.5,473.3 840.0,470.0 839.4,466.6C838.9,463.2 837.8,459.9 838.4,456.5C839.1,453.1 842.3,449.4 843.5,446.4C844.7,443.4 845.8,441.4 845.5,438.3C845.2,435.3 841.5,431.3 841.5,428.3C841.5,425.2 843.5,422.5 845.5,420.2C847.5,417.8 851.2,416.5 853.6,414.1C855.9,411.8 858.3,408.4 859.6,406.1C861.0,403.7 861.4,402.9 861.7,400.0C861.9,397.1 861.0,393.5 861.1,388.8C861.2,384.2 861.1,377.3 862.3,372.1C863.5,366.9 865.9,363.0 868.3,357.8C870.6,352.6 874.2,346.7 876.6,341.1C879.0,335.5 881.2,329.4 882.6,324.4C884.0,319.4 884.2,318.0 885.0,311.3C885.7,304.5 894.9,294.4 887.3,283.9C879.8,273.3 847.6,249.1 839.6,248.1Z" fill="none" stroke="url(#e3)" stroke-width="24"/>
<path d="M544.3,379.3C549.9,367.3 566.3,338.6 577.7,331.6C589.1,324.5 605.4,336.4 612.7,337.1C620.0,337.8 619.1,336.5 621.7,335.7C624.2,334.9 626.2,333.7 627.8,332.3C629.4,330.9 630.4,329.3 631.3,327.5C632.1,325.6 632.2,323.0 632.9,321.3C633.6,319.6 634.3,318.4 635.4,317.2C636.6,315.9 638.6,314.0 639.8,313.9C641.1,313.7 642.2,315.4 643.0,316.1C643.7,316.7 643.8,316.5 644.4,317.8C644.9,319.2 645.3,322.1 646.1,324.0C646.9,326.0 647.9,327.9 649.2,329.5C650.5,331.1 652.4,332.5 654.0,333.7C655.6,334.8 657.7,336.5 658.8,336.4C660.0,336.3 660.4,334.5 660.9,333.0C661.4,331.5 661.0,328.3 661.8,327.5C662.6,326.6 664.4,327.6 665.7,327.8C667.0,327.9 668.7,327.2 669.8,328.4C671.0,329.7 671.9,333.0 672.6,335.0C673.3,337.1 673.8,338.7 673.9,340.6C674.1,342.4 674.1,344.2 673.7,346.1C673.2,347.9 672.3,350.0 671.2,351.6C670.1,353.2 668.7,354.5 667.1,355.7C665.5,356.8 663.4,357.5 661.6,358.4C659.7,359.4 657.5,360.2 656.1,361.2C654.6,362.2 653.5,363.5 652.6,364.6C651.7,365.8 651.8,366.4 650.6,368.1C649.3,369.8 646.6,372.9 645.0,375.0C643.5,377.0 642.0,378.6 641.2,380.5C640.3,382.3 639.9,384.1 640.0,386.0C640.0,387.8 640.6,390.0 641.6,391.5C642.6,393.0 644.0,394.0 645.7,394.9C647.5,395.8 649.7,396.2 651.9,396.7C654.1,397.2 656.9,397.3 658.8,398.1C660.8,398.8 662.5,399.9 663.6,401.1C664.8,402.3 665.2,403.4 665.7,405.2C666.1,407.1 665.9,410.4 666.4,412.1C666.8,413.8 667.8,414.7 668.4,415.6C669.1,416.4 669.7,416.9 670.5,416.9C671.3,416.9 672.4,416.6 673.3,415.6C674.1,414.5 675.0,412.7 675.6,410.7C676.2,408.8 676.8,406.1 677.0,403.9C677.1,401.6 676.7,399.3 676.4,397.0C676.1,394.7 675.3,392.4 675.3,390.1C675.4,387.8 676.0,385.5 676.7,383.2C677.4,380.9 678.1,378.4 679.4,376.3C680.8,374.3 683.3,371.5 685.0,370.8C686.6,370.1 687.5,371.7 689.1,372.2C690.7,372.7 692.9,372.9 694.6,373.6C696.3,374.3 698.2,375.1 699.4,376.3C700.6,377.6 701.2,379.1 701.7,381.1C702.3,383.2 701.8,387.2 702.6,388.7C703.3,390.2 705.1,390.0 706.3,390.1C707.5,390.2 709.0,390.7 709.7,389.4C710.4,388.1 709.6,383.1 710.4,382.1C711.2,381.1 713.3,382.7 714.5,383.5C715.8,384.2 716.9,385.1 717.7,386.7C718.5,388.2 718.5,390.8 719.1,392.8C719.7,394.9 720.3,397.5 721.4,399.0C722.5,400.6 723.9,401.4 725.6,402.2C727.2,403.0 729.6,402.5 731.1,403.6C732.5,404.7 733.3,406.6 734.5,408.7C735.6,410.8 737.0,414.1 737.9,416.2C738.9,418.4 739.7,420.7 740.0,421.7C740.3,422.7 741.1,421.5 739.9,422.2C738.7,422.9 735.5,425.0 732.8,425.8C730.0,426.6 725.4,426.0 723.2,427.0C721.0,428.0 721.2,430.0 719.6,431.7C718.0,433.5 715.7,435.5 713.7,437.7C711.7,439.9 709.4,442.3 707.7,444.9C706.0,447.4 705.4,450.6 703.7,453.2C701.9,455.8 699.3,458.4 697.0,460.4C694.7,462.4 691.5,463.5 689.8,465.1C688.1,466.7 687.6,468.4 686.6,470.0C685.7,471.6 685.6,473.4 684.1,475.0C682.6,476.5 679.3,477.7 677.5,479.1C675.7,480.5 674.3,481.4 673.4,483.2C672.5,485.0 672.2,487.6 672.2,489.8C672.3,492.0 673.6,494.5 673.9,496.4C674.2,498.3 674.6,500.1 674.2,501.4C673.9,502.7 672.7,504.2 671.7,504.3C670.8,504.5 669.5,503.4 668.4,502.2C667.4,501.0 666.6,498.9 665.6,497.2C664.7,495.6 664.3,493.5 662.7,492.3C661.1,491.1 658.5,490.0 656.1,490.1C653.6,490.3 650.6,492.2 647.8,493.1C645.0,494.0 641.7,494.8 639.5,495.6C637.4,496.4 635.7,496.4 634.9,498.1C634.1,499.7 634.4,503.0 634.6,505.5C634.8,508.0 635.0,510.9 636.2,512.9C637.5,515.0 640.1,517.8 642.0,517.9C643.9,518.0 646.3,515.4 647.8,513.8C649.3,512.1 650.4,509.6 651.1,508.0C651.8,506.3 651.2,504.7 651.9,503.9C652.6,503.0 654.1,502.5 655.2,503.0C656.3,503.6 657.6,505.2 658.5,507.2C659.5,509.1 660.2,512.4 661.0,514.6C661.8,516.8 662.5,518.9 663.5,520.4C664.4,521.8 666.1,521.4 666.8,523.2C667.5,525.0 666.9,528.8 667.6,531.1C668.3,533.4 669.5,535.3 670.9,536.9C672.3,538.5 674.1,540.1 675.9,540.7C677.7,541.2 679.7,541.0 681.7,540.2C683.6,539.4 685.6,537.6 687.4,536.1C689.2,534.5 690.9,532.5 692.4,531.1C693.9,529.7 695.2,528.6 696.5,527.8C697.8,527.0 699.3,526.0 700.3,526.1C701.3,526.3 701.9,527.2 702.3,528.6C702.7,530.1 701.5,533.6 702.6,534.7C703.7,535.8 707.0,534.7 708.9,535.2C710.8,535.7 712.1,536.6 713.9,537.7C715.6,538.8 717.4,540.6 719.6,541.8C721.8,543.1 724.4,544.5 727.1,545.1C729.7,545.8 732.8,545.1 735.3,545.6C737.8,546.2 739.7,547.3 741.9,548.4C744.1,549.6 746.1,551.2 748.5,552.6C751.0,553.9 754.0,555.5 756.8,556.7C759.5,557.9 762.3,558.4 765.0,560.0C767.8,561.6 770.7,564.1 773.3,566.1C775.9,568.1 778.6,569.6 780.5,572.0C782.4,574.4 784.3,577.6 784.8,580.4C785.2,583.1 784.2,586.3 783.3,588.7C782.4,591.1 780.5,592.5 779.3,594.7C778.0,596.9 776.5,599.3 775.7,601.8C774.9,604.4 775.3,607.6 774.5,610.2C773.7,612.8 772.5,615.6 770.9,617.3C769.3,619.1 767.1,619.7 765.0,620.9C762.8,622.1 760.0,622.9 757.8,624.5C755.6,626.1 753.1,627.9 751.8,630.5C750.5,633.0 750.9,638.0 749.9,640.0C748.9,642.0 747.1,640.8 745.9,642.4C744.6,644.0 743.7,647.4 742.3,649.5C740.9,651.7 739.3,653.9 737.5,655.5C735.7,657.1 732.8,657.3 731.6,659.1C730.4,660.9 731.8,664.8 730.4,666.2C729.0,667.6 725.2,666.0 723.2,667.4C721.2,668.8 720.0,672.0 718.4,674.6C716.9,677.2 714.9,680.7 713.7,682.9C712.5,685.1 711.0,686.5 711.3,687.7C711.6,688.9 715.4,688.9 715.6,690.1C715.8,691.3 713.6,693.5 712.5,694.9C711.4,696.3 709.7,696.3 708.9,698.4C708.1,700.6 707.8,704.8 707.7,708.0C707.6,711.2 707.7,715.1 708.4,717.5C709.1,719.9 711.5,720.7 711.8,722.3C712.0,723.9 711.2,726.2 710.1,727.1C709.0,727.9 707.3,728.1 705.3,727.5C703.3,726.9 700.4,725.2 698.2,723.5C696.0,721.8 693.8,720.1 692.2,717.5C690.6,714.9 689.3,711.6 688.6,708.0C687.9,704.4 687.8,700.4 687.9,696.1C688.0,691.7 688.6,686.9 689.3,681.7C690.1,676.6 691.3,670.2 692.2,665.0C693.1,659.9 693.8,655.1 694.6,650.7C695.4,646.4 696.3,643.2 697.0,638.8C697.7,634.4 698.9,628.5 698.9,624.5C698.9,620.5 697.9,617.7 697.0,615.0C696.1,612.2 693.6,608.6 693.4,607.8C693.2,607.0 696.1,610.8 695.7,610.4C695.2,610.0 692.7,607.1 690.7,605.4C688.8,603.8 686.3,602.5 684.1,600.5C681.9,598.4 679.6,595.8 677.5,593.0C675.5,590.3 673.3,586.6 671.7,583.9C670.2,581.3 669.1,579.5 668.4,577.3C667.8,575.1 667.3,572.8 667.6,570.7C667.9,568.7 668.7,566.9 670.1,565.0C671.5,563.0 674.1,561.2 675.9,559.2C677.7,557.1 679.9,554.3 680.8,552.6C681.8,550.9 682.5,549.8 681.7,548.9C680.8,548.1 677.9,547.8 675.9,547.3C673.8,546.8 671.5,546.6 669.3,546.0C667.1,545.3 664.7,544.7 662.7,543.5C660.6,542.2 658.4,540.2 656.9,538.5C655.4,536.9 654.4,534.7 653.6,533.6C652.8,532.5 654.3,532.3 651.9,531.9C649.6,531.6 643.3,531.7 639.5,531.6C635.8,531.5 632.0,531.5 629.6,531.1C627.3,530.7 626.6,530.6 625.5,529.4C624.4,528.3 624.3,526.1 623.0,524.5C621.8,522.8 619.7,521.2 618.1,519.5C616.4,517.9 614.5,516.4 613.1,514.6C611.7,512.8 611.1,510.9 609.8,508.8C608.6,506.7 606.9,503.7 605.7,502.2C604.4,500.7 603.1,499.6 602.4,499.7C601.6,499.9 601.3,501.5 601.2,503.0C601.1,504.5 601.8,507.4 601.9,508.8C601.9,510.2 602.3,511.3 601.6,511.3C600.8,511.3 598.8,510.3 597.4,508.8C596.1,507.3 594.5,504.3 593.3,502.2C592.1,500.1 591.2,499.0 590.0,496.4C588.8,493.8 587.5,489.8 586.1,486.6C584.6,483.4 583.1,480.2 581.3,477.1C579.5,473.9 576.7,471.1 575.3,467.5C573.9,463.9 573.7,459.2 572.9,455.6C572.2,452.0 572.2,448.8 571.0,446.1C569.8,443.3 567.5,441.5 565.8,438.9C564.0,436.3 561.6,433.3 560.5,430.6C559.4,427.8 559.5,424.6 559.1,422.2C558.7,419.8 560.6,419.4 558.1,416.2C555.7,413.1 546.6,409.3 544.3,403.1C542.0,397.0 538.7,391.2 544.3,379.3Z" fill="#6d9636"/>
<path d="M653.3,305.5C653.8,306.9 653.2,308.0 653.6,309.6C653.9,311.2 654.6,313.4 655.4,315.1C656.1,316.8 657.1,318.6 658.1,319.9C659.2,321.2 660.3,322.2 661.6,322.9C662.8,323.6 664.1,324.0 665.7,324.0C667.3,324.0 669.4,323.3 671.2,322.9C673.0,322.6 674.9,321.9 676.7,322.0C678.5,322.0 680.6,322.5 682.2,323.3C683.8,324.2 685.3,325.3 686.3,326.8C687.4,328.3 687.8,330.2 688.4,332.3C689.0,334.4 689.9,337.1 689.8,339.2C689.7,341.2 688.5,342.8 687.7,344.7C686.9,346.5 685.6,348.3 685.0,350.2C684.3,352.0 684.0,354.0 684.0,355.7C683.9,357.3 683.9,359.5 684.7,360.1C685.4,360.7 687.1,359.3 688.4,359.1C689.7,359.0 691.1,358.7 692.5,359.1C693.9,359.6 695.4,360.6 696.7,361.9C697.9,363.1 698.8,365.0 700.1,366.7C701.4,368.4 702.7,370.6 704.2,372.2C705.7,373.8 707.4,375.4 709.0,376.3C710.6,377.3 713.1,379.4 713.9,378.0C714.7,376.6 714.3,369.8 713.9,368.1C713.4,366.3 712.0,368.0 711.1,367.4C710.2,366.8 709.1,365.9 708.3,364.6C707.6,363.4 707.0,361.4 706.7,359.8C706.4,358.3 706.1,355.9 706.3,355.4C706.5,355.0 707.4,356.3 708.1,357.1C708.8,357.8 709.4,359.3 710.4,359.8C711.4,360.3 712.7,360.6 713.9,360.1C715.0,359.6 716.5,358.5 717.3,357.1C718.1,355.6 718.7,353.4 718.7,351.6C718.7,349.7 718.1,347.7 717.3,346.1C716.5,344.4 715.1,343.0 713.9,341.9C712.6,340.8 710.2,340.8 709.7,339.4C709.3,338.1 710.6,336.0 711.1,333.7C711.6,331.3 713.2,327.0 712.8,325.4C712.3,323.8 710.5,324.6 708.3,324.0C706.2,323.5 702.4,322.8 700.1,322.0C697.8,321.2 696.1,320.4 694.6,319.2C693.1,318.1 692.2,316.8 691.1,315.1C690.1,313.4 689.2,311.0 688.4,308.9C687.6,306.8 687.2,304.5 686.3,302.7C685.4,300.9 684.3,299.2 682.9,298.3C681.5,297.5 680.7,297.7 678.1,297.6C675.4,297.5 670.3,298.5 667.1,297.9C663.9,297.2 661.6,293.3 658.8,293.8C656.1,294.2 651.5,298.7 650.6,300.6C649.6,302.6 652.8,304.0 653.3,305.5Z" fill="#6d9636"/>
<path d="M716.1,269.5C706.2,273.1 718.8,274.7 720.8,276.7C722.8,278.7 726.2,279.1 728.0,281.5C729.8,283.9 731.4,287.6 731.6,291.0C731.8,294.4 728.8,299.6 729.2,301.7C729.6,303.9 732.8,301.9 733.9,304.1C735.1,306.3 735.7,310.7 736.3,314.9C736.9,319.0 736.7,325.2 737.5,329.2C738.3,333.1 740.1,334.3 741.1,338.7C742.1,343.1 742.5,350.2 743.5,355.4C744.5,360.6 745.7,366.1 747.1,369.7C748.5,373.3 749.6,374.9 751.8,376.9C754.0,378.9 757.4,380.3 760.2,381.7C763.0,383.0 766.9,386.0 768.5,385.2C770.1,384.4 769.3,379.9 769.7,376.9C770.1,373.9 769.5,370.3 770.9,367.3C772.3,364.4 774.9,361.8 778.1,359.0C781.3,356.2 787.3,352.6 790.0,350.6C792.7,348.7 791.6,349.1 794.3,347.1C797.0,345.1 803.1,341.7 806.2,338.7C809.4,335.7 811.8,332.4 813.4,329.2C815.0,326.0 815.6,322.8 815.8,319.6C816.0,316.5 815.0,312.9 814.6,310.1C814.2,307.3 813.0,306.1 813.4,302.9C813.8,299.8 815.4,294.6 817.0,291.0C818.6,287.4 821.5,284.4 822.9,281.5C824.3,278.5 824.5,275.9 825.3,273.1C826.1,270.3 835.3,267.8 827.7,264.8C820.2,261.8 798.6,254.4 780.0,255.2C761.4,256.0 725.9,266.0 716.1,269.5Z" fill="#6d9636"/>
<path d="M811.0,351.8C811.7,351.4 814.0,355.2 815.8,355.4C817.6,355.6 819.8,354.0 821.7,353.0C823.7,352.0 825.6,349.9 827.7,349.4C829.8,349.0 832.9,349.4 834.4,350.2C835.9,351.0 836.7,352.4 836.5,354.2C836.4,356.1 835.1,359.0 833.7,361.4C832.2,363.8 829.9,366.9 827.7,368.5C825.5,370.1 822.9,370.8 820.6,370.9C818.2,371.0 815.2,370.4 813.4,369.2C811.6,368.1 810.1,365.7 809.8,363.8C809.5,361.9 811.5,359.8 811.7,357.8C811.9,355.8 810.3,352.2 811.0,351.8Z" fill="#6d9636"/>
<path d="M839.6,400.3C840.4,400.3 842.2,402.8 843.2,404.3C844.2,405.8 845.5,407.5 845.6,409.1C845.7,410.7 845.5,412.6 843.9,413.9C842.3,415.1 837.2,417.3 836.1,416.7C834.9,416.1 836.4,412.3 836.8,410.3C837.2,408.2 838.0,406.0 838.4,404.3C838.9,402.6 838.8,400.3 839.6,400.3Z" fill="#6d9636"/>
<path d="M667.6,511.3C667.9,510.3 669.5,508.8 670.9,508.0C672.3,507.2 673.9,507.1 675.9,506.7C677.8,506.2 681.0,506.4 682.5,505.5C683.9,504.6 684.1,502.6 684.5,501.4C684.8,500.2 684.0,499.0 684.5,498.4C685.0,497.9 686.4,497.7 687.4,498.1C688.4,498.4 689.7,499.2 690.4,500.6C691.1,501.9 691.3,504.3 691.6,506.3C691.8,508.4 691.6,511.3 692.1,512.9C692.5,514.6 692.9,515.7 694.0,516.2C695.2,516.8 697.1,516.2 699.0,516.2C700.9,516.3 703.5,516.2 705.6,516.7C707.7,517.2 709.4,518.2 711.4,519.2C713.3,520.2 715.2,521.4 717.2,522.5C719.1,523.7 721.9,525.2 722.9,526.1C724.0,527.1 723.7,527.7 723.4,528.1C723.2,528.6 722.6,529.3 721.3,529.0C720.0,528.6 717.4,526.9 715.5,525.8C713.6,524.7 711.7,523.3 709.7,522.5C707.8,521.7 706.0,520.9 703.9,520.9C701.9,520.8 699.5,521.5 697.3,522.0C695.1,522.6 692.9,523.5 690.7,524.2C688.5,524.8 686.1,525.6 684.1,525.8C682.2,526.0 680.3,525.9 679.2,525.3C678.0,524.8 677.6,523.6 677.2,522.5C676.8,521.4 677.3,519.8 676.7,518.7C676.1,517.7 674.6,517.1 673.4,516.2C672.2,515.4 670.2,514.6 669.3,513.8C668.3,512.9 667.3,512.2 667.6,511.3Z" fill="#6d9636"/>
<path d="M723.2,706.8C723.9,705.5 726.5,704.8 728.0,704.4C729.5,704.0 731.5,703.6 732.3,704.4C733.1,705.2 733.3,708.1 732.8,709.2C732.2,710.2 730.7,710.3 729.2,710.8C727.7,711.4 724.7,713.0 723.7,712.3C722.7,711.6 722.5,708.1 723.2,706.8Z" fill="#6d9636"/>
<path d="M987.5,597.1C987.4,597.7 985.9,600.8 985.1,603.0C984.3,605.2 983.1,607.4 982.8,610.2C982.4,613.0 983.4,616.9 983.2,619.7C983.0,622.5 982.4,625.1 981.6,626.9C980.7,628.7 979.4,630.1 978.0,630.5C976.6,630.9 974.4,630.7 973.2,629.3C972.0,627.9 971.1,624.5 970.8,622.1C970.5,619.7 970.7,617.1 971.3,615.0C971.9,612.8 972.9,610.8 974.4,609.0C975.9,607.2 978.5,605.8 980.4,604.2C982.2,602.6 984.4,600.6 985.6,599.4C986.8,598.3 987.6,596.5 987.5,597.1Z" fill="#6d9636"/>
<path d="M926.0,317.2C921.0,319.7 919.7,321.1 917.2,322.5C914.6,323.9 912.4,324.2 910.7,325.6C909.0,327.0 908.4,329.8 906.9,331.1C905.4,332.4 902.7,332.2 901.7,333.5C900.6,334.7 901.2,336.6 900.5,338.7C899.7,340.8 898.9,343.3 897.4,345.9C895.8,348.5 893.4,351.5 890.9,354.2C888.5,356.9 885.1,359.2 882.6,362.1C880.1,365.0 877.4,368.6 875.9,371.6C874.4,374.7 873.6,377.8 873.7,380.5C873.9,383.1 874.9,385.5 876.6,387.6C878.3,389.7 882.0,392.9 883.8,393.1C885.6,393.3 886.3,389.8 887.3,388.8C888.4,387.8 889.0,386.3 890.2,387.1C891.4,387.9 893.2,390.9 894.5,393.6C895.8,396.2 898.6,402.0 898.1,403.1C897.6,404.2 893.2,401.1 891.6,400.3C890.0,399.5 889.2,397.7 888.5,398.3C887.8,399.0 888.0,402.2 887.3,404.3C886.7,406.4 886.5,408.8 884.5,410.8C882.5,412.7 878.0,414.1 875.4,416.2C872.8,418.3 870.8,420.9 868.7,423.4C866.7,425.9 864.9,429.3 863.0,431.3C861.1,433.3 859.0,434.8 857.5,435.3C856.1,435.8 855.2,432.8 854.4,434.1C853.7,435.4 853.9,440.8 853.0,443.2C852.1,445.6 850.8,447.4 849.2,448.4C847.5,449.5 844.8,448.6 843.2,449.6C841.6,450.6 840.3,452.2 839.6,454.4C839.0,456.6 838.7,460.2 839.2,462.8C839.6,465.3 841.4,468.1 842.5,469.9C843.6,471.7 845.8,470.8 845.6,473.5C845.4,476.2 842.9,483.5 841.5,486.1C840.1,488.8 838.8,487.8 837.2,489.5C835.7,491.1 833.1,493.4 832.0,496.1C830.9,498.9 830.6,503.3 830.6,505.7C830.6,508.1 832.7,509.1 832.0,510.5C831.3,511.9 828.6,512.6 826.5,514.0C824.4,515.4 820.7,517.9 819.4,518.8C818.0,519.7 818.6,518.6 818.2,519.5C817.8,520.5 816.8,522.5 817.0,524.3C817.2,526.1 818.2,528.7 819.4,530.3C820.6,531.9 823.3,531.9 824.1,533.9C824.9,535.8 823.7,539.8 824.1,542.2C824.5,544.6 825.3,546.2 826.5,548.2C827.7,550.2 829.5,552.1 831.3,554.1C833.1,556.1 835.3,558.5 837.2,560.1C839.2,561.7 841.2,563.2 843.2,563.7C845.2,564.1 847.0,563.6 849.2,563.0C851.4,562.4 853.9,561.0 856.3,560.1C858.7,559.2 861.3,557.9 863.5,557.7C865.7,557.5 867.5,558.0 869.4,558.9C871.4,559.8 873.4,561.4 875.4,563.0C877.4,564.5 879.8,566.5 881.4,568.4C883.0,570.3 884.0,571.8 885.0,574.4C885.9,577.0 886.4,580.8 886.9,583.9C887.3,587.1 887.3,590.5 887.8,593.5C888.4,596.5 889.2,599.1 890.2,601.8C891.2,604.6 893.2,607.2 894.0,610.2C894.8,613.2 894.3,616.7 895.0,619.7C895.6,622.7 896.8,625.3 898.1,628.1C899.4,630.9 901.3,633.6 902.8,636.4C904.4,639.2 906.3,642.0 907.6,644.8C908.9,647.6 909.7,650.9 910.7,653.1C911.7,655.4 912.3,657.1 913.6,658.4C914.9,659.6 916.6,660.6 918.3,660.8C920.1,660.9 922.5,660.2 924.3,659.1C926.1,658.0 927.7,655.9 929.1,654.3C930.5,652.7 931.1,650.9 932.7,649.5C934.3,648.1 936.6,647.2 938.6,646.0C940.6,644.8 942.8,643.8 944.6,642.4C946.4,641.0 948.0,639.6 949.4,637.6C950.7,635.6 952.1,633.0 952.9,630.5C953.7,627.9 953.5,624.7 954.1,622.1C954.7,619.5 955.3,616.9 956.5,615.0C957.7,613.0 959.7,611.6 961.3,610.2C962.9,608.8 964.8,608.2 966.1,606.6C967.3,605.0 968.7,603.0 968.9,600.6C969.1,598.3 967.8,595.1 967.2,592.3C966.7,589.5 965.4,586.3 965.6,583.9C965.8,581.6 967.2,580.0 968.4,578.0C969.7,576.0 971.4,574.4 973.2,572.0C975.0,569.6 977.2,566.9 979.2,563.7C981.2,560.5 984.6,553.9 985.1,552.9C985.6,551.9 982.0,557.9 982.1,557.6C982.2,557.3 984.7,553.2 985.8,551.0C986.9,548.8 987.9,546.6 988.7,544.4C989.5,542.2 990.3,539.6 990.8,537.8C991.3,536.0 991.8,534.8 991.9,533.7C991.9,532.5 991.7,531.4 991.2,530.8C990.7,530.1 989.5,529.8 988.7,529.8C987.9,529.7 986.9,530.5 986.2,530.5C985.6,530.5 984.6,530.0 984.6,529.8C984.6,529.6 984.9,529.8 986.2,529.4C987.6,529.0 990.6,528.4 992.8,527.5C995.0,526.5 997.4,525.1 999.4,523.8C1001.5,522.5 1003.6,521.1 1005.2,519.6C1006.8,518.1 1008.2,516.2 1008.9,514.7C1009.7,513.2 1010.0,511.9 1009.8,510.6C1009.6,509.2 1008.9,507.7 1007.7,506.4C1006.5,505.1 1004.7,503.8 1002.8,502.7C1000.8,501.6 998.3,500.8 996.1,499.8C993.9,498.8 991.2,497.8 989.5,496.5C987.9,495.3 986.7,493.6 986.2,492.4C985.8,491.2 986.0,490.1 986.7,489.5C987.3,488.9 988.9,488.5 990.4,488.7C991.8,488.8 993.7,489.3 995.3,490.3C997.0,491.4 998.5,493.2 1000.3,494.9C1002.1,496.5 1004.0,498.7 1006.1,500.2C1008.1,501.7 1010.5,502.9 1012.7,503.9C1014.9,505.0 1017.0,505.5 1019.3,506.4C1021.5,507.3 1023.7,508.5 1026.3,509.3C1028.9,510.1 1028.3,529.1 1035.0,511.4C1041.6,493.7 1069.0,437.1 1066.2,403.1C1063.5,369.2 1038.4,323.6 1018.5,307.7C998.7,291.8 962.4,306.1 947.0,307.7C931.5,309.3 931.0,314.8 926.0,317.2Z" fill="#6d9636"/>
<g clip-path="url(#lc)">
<rect x="536.0" y="268.5" width="491.0" height="491.0" fill="url(#hl)"/>
<path d="M565.8,360.2C574.3,351.4 577.3,370.1 581.3,374.5C585.3,378.9 587.6,382.4 589.6,386.4C591.6,390.4 592.2,394.4 593.2,398.3C594.2,402.3 594.2,407.3 595.6,410.3C597.0,413.3 598.6,414.6 601.6,416.2C604.5,417.8 608.7,418.8 613.5,419.8C618.3,420.8 625.0,421.0 630.2,422.2C635.4,423.4 640.5,424.6 644.5,427.0C648.5,429.4 651.5,432.9 654.0,436.5C656.6,440.1 658.9,444.5 660.0,448.4C661.1,452.4 661.1,456.8 660.7,460.4C660.3,463.9 657.8,468.3 657.6,469.9C657.4,471.5 660.6,467.4 659.4,470.0C658.1,472.6 650.8,481.8 650.3,485.7C649.7,489.5 654.0,489.7 656.1,493.1C658.1,496.6 661.1,502.2 662.7,506.3C664.2,510.5 664.4,514.4 665.1,517.9C665.9,521.3 666.2,523.5 667.3,527.0C668.4,530.4 669.8,536.7 671.7,538.5C673.7,540.4 676.7,538.9 679.2,538.0C681.7,537.2 684.1,535.5 686.6,533.6C689.1,531.7 691.8,528.1 694.0,526.5C696.3,524.9 698.4,523.6 700.3,523.8C702.2,524.1 703.1,526.4 705.6,527.8C708.1,529.2 712.8,531.0 715.5,532.4C718.3,533.8 718.3,534.3 722.1,536.1C726.0,537.8 732.9,539.3 738.6,542.7C744.4,546.1 753.3,552.4 756.6,556.5C759.9,560.6 758.7,563.5 758.5,567.2C758.3,571.0 757.3,575.6 755.4,579.2C753.5,582.8 749.8,585.7 747.1,588.7C744.3,591.7 741.2,594.3 738.7,597.1C736.3,599.8 733.6,602.0 732.3,605.4C731.0,608.8 731.4,613.4 730.8,617.3C730.3,621.3 730.0,625.3 729.2,629.3C728.3,633.2 727.0,637.2 725.6,641.2C724.2,645.2 722.6,649.1 720.8,653.1C719.0,657.1 716.7,661.1 714.9,665.0C713.1,669.0 711.5,673.0 710.1,677.0C708.7,680.9 707.3,685.7 706.5,688.9C705.7,692.1 705.3,692.1 705.3,696.1C705.3,700.0 705.1,706.0 706.5,712.8C707.9,719.5 719.2,732.6 713.7,736.6C708.1,740.6 691.8,762.4 673.1,736.6C654.4,710.8 625.4,623.3 601.6,581.6C577.7,539.8 541.9,511.9 530.0,486.1C518.1,460.4 524.0,448.0 530.0,427.0C536.0,406.0 557.2,368.9 565.8,360.2Z" fill="#5a863c"/>
<path d="M751.8,267.2C739.9,269.1 755.2,278.3 756.6,283.9C758.0,289.4 758.8,295.4 760.2,300.6C761.6,305.7 762.8,310.1 765.0,314.9C767.1,319.6 770.3,325.4 773.3,329.2C776.3,333.0 779.7,335.5 782.8,337.5C786.0,339.5 789.2,340.7 792.4,341.1C795.6,341.5 798.7,341.5 801.9,339.9C805.1,338.3 809.1,334.5 811.5,331.6C813.9,328.6 813.5,332.0 816.2,322.0C819.0,312.1 838.9,281.1 828.2,271.9C817.4,262.8 763.8,265.2 751.8,267.2Z" fill="#5a863c"/>
<path d="M826.5,348.3C828.9,347.3 835.3,347.5 837.2,348.7C839.2,349.9 838.9,353.1 838.4,355.4C838.0,357.7 836.0,361.0 834.4,362.6C832.8,364.2 830.2,365.6 828.9,365.0C827.6,364.4 827.5,360.8 826.5,359.0C825.5,357.2 822.9,356.0 822.9,354.2C822.9,352.4 824.1,349.2 826.5,348.3Z" fill="#5a863c"/>
<path d="M916.0,324.4C917.4,320.4 920.8,317.6 926.0,314.9C931.1,312.1 939.5,301.7 947.0,307.7C954.4,313.7 967.6,342.7 970.8,350.6C974.0,358.6 967.0,351.4 966.1,355.4C965.1,359.4 965.3,368.1 964.9,374.5C964.5,380.9 963.1,388.8 963.7,393.6C964.3,398.3 966.1,400.7 968.4,403.1C970.8,405.5 974.8,405.5 978.0,407.9C981.2,410.3 984.7,413.9 987.5,417.4C990.3,421.0 991.9,426.0 994.7,429.4C997.5,432.7 1000.8,436.3 1004.2,437.7C1007.6,439.1 1008.6,435.5 1015.0,437.7C1021.3,439.9 1039.4,443.1 1042.4,450.8C1045.4,458.6 1036.8,478.5 1032.8,484.2C1028.9,490.0 1023.3,485.0 1018.5,485.4C1013.8,485.8 1009.0,487.0 1004.2,486.6C999.4,486.2 994.7,484.6 989.9,483.0C985.1,481.4 980.4,479.6 975.6,477.1C970.8,474.5 965.3,471.1 961.3,467.5C957.3,463.9 954.5,459.6 951.7,455.6C949.0,451.6 948.2,446.9 944.6,443.7C941.0,440.5 934.6,439.3 930.3,436.5C925.9,433.7 921.3,430.6 918.3,427.0C915.4,423.4 913.4,419.4 912.4,415.0C911.4,410.7 911.8,405.5 912.4,400.7C913.0,396.0 915.0,391.2 916.0,386.4C916.9,381.7 917.8,377.3 917.9,372.1C918.0,366.9 916.6,361.0 916.4,355.4C916.3,349.8 917.2,343.9 917.2,338.7C917.1,333.5 914.5,328.4 916.0,324.4Z" fill="#5a863c"/>
<path d="M803.9,505.2C807.2,503.0 813.4,514.6 819.4,516.0C825.3,517.4 832.3,514.0 839.6,513.6C847.0,513.2 855.5,513.4 863.5,513.6C871.4,513.8 879.8,514.2 887.3,514.8C894.9,515.4 902.8,516.0 908.8,517.2C914.8,518.3 919.1,519.9 923.1,521.9C927.1,523.9 930.1,526.3 932.7,529.1C935.2,531.9 937.2,535.0 938.6,538.6C940.0,542.2 941.0,547.0 941.0,550.6C941.0,554.1 939.6,556.9 938.6,560.1C937.6,563.3 936.4,566.5 935.0,569.6C933.7,572.8 932.3,576.4 930.3,579.2C928.3,582.0 924.7,583.5 923.1,586.3C921.5,589.1 921.1,592.3 920.7,595.9C920.3,599.4 919.9,604.6 920.7,607.8C921.5,611.0 923.1,613.0 925.5,615.0C927.9,616.9 931.9,617.7 935.0,619.7C938.2,621.7 942.2,624.9 944.6,626.9C947.0,628.9 948.4,629.7 949.4,631.7C950.4,633.6 950.9,634.4 950.6,638.8C950.2,643.2 953.1,651.5 947.0,657.9C940.8,664.3 925.5,689.7 913.6,677.0C901.7,664.3 891.7,599.1 875.4,581.6C859.1,564.1 828.5,580.8 815.8,572.0C803.1,563.3 801.1,540.2 799.1,529.1C797.1,518.0 800.5,507.4 803.9,505.2Z" fill="#5a863c"/>
<path d="M581.3,374.5C582.7,376.5 587.6,382.4 589.6,386.4C591.6,390.4 592.2,394.4 593.2,398.3C594.2,402.3 594.2,407.3 595.6,410.3C597.0,413.3 598.6,414.6 601.6,416.2C604.5,417.8 608.7,418.8 613.5,419.8C618.3,420.8 625.0,421.0 630.2,422.2C635.4,423.4 640.5,424.6 644.5,427.0C648.5,429.4 651.5,432.9 654.0,436.5C656.6,440.1 658.9,444.5 660.0,448.4C661.1,452.4 661.1,456.8 660.7,460.4C660.3,463.9 657.8,468.3 657.6,469.9C657.4,471.5 660.6,467.4 659.4,470.0C658.1,472.6 651.8,483.1 650.3,485.7" fill="none" stroke="url(#k1)" stroke-width="6"/><path d="M581.3,374.5C582.7,376.5 587.6,382.4 589.6,386.4C591.6,390.4 592.2,394.4 593.2,398.3C594.2,402.3 594.2,407.3 595.6,410.3C597.0,413.3 598.6,414.6 601.6,416.2C604.5,417.8 608.7,418.8 613.5,419.8C618.3,420.8 625.0,421.0 630.2,422.2C635.4,423.4 640.5,424.6 644.5,427.0C648.5,429.4 651.5,432.9 654.0,436.5C656.6,440.1 658.9,444.5 660.0,448.4C661.1,452.4 661.1,456.8 660.7,460.4C660.3,463.9 657.8,468.3 657.6,469.9C657.4,471.5 660.6,467.4 659.4,470.0C658.1,472.6 651.8,483.1 650.3,485.7" fill="none" stroke="url(#k2)" stroke-width="14"/><path d="M581.3,374.5C582.7,376.5 587.6,382.4 589.6,386.4C591.6,390.4 592.2,394.4 593.2,398.3C594.2,402.3 594.2,407.3 595.6,410.3C597.0,413.3 598.6,414.6 601.6,416.2C604.5,417.8 608.7,418.8 613.5,419.8C618.3,420.8 625.0,421.0 630.2,422.2C635.4,423.4 640.5,424.6 644.5,427.0C648.5,429.4 651.5,432.9 654.0,436.5C656.6,440.1 658.9,444.5 660.0,448.4C661.1,452.4 661.1,456.8 660.7,460.4C660.3,463.9 657.8,468.3 657.6,469.9C657.4,471.5 660.6,467.4 659.4,470.0C658.1,472.6 651.8,483.1 650.3,485.7" fill="none" stroke="url(#k3)" stroke-width="22"/><path d="M581.3,374.5C582.7,376.5 587.6,382.4 589.6,386.4C591.6,390.4 592.2,394.4 593.2,398.3C594.2,402.3 594.2,407.3 595.6,410.3C597.0,413.3 598.6,414.6 601.6,416.2C604.5,417.8 608.7,418.8 613.5,419.8C618.3,420.8 625.0,421.0 630.2,422.2C635.4,423.4 640.5,424.6 644.5,427.0C648.5,429.4 651.5,432.9 654.0,436.5C656.6,440.1 658.9,444.5 660.0,448.4C661.1,452.4 661.1,456.8 660.7,460.4C660.3,463.9 657.8,468.3 657.6,469.9C657.4,471.5 660.6,467.4 659.4,470.0C658.1,472.6 651.8,483.1 650.3,485.7" fill="none" stroke="url(#g1)" stroke-width="6"/><path d="M581.3,374.5C582.7,376.5 587.6,382.4 589.6,386.4C591.6,390.4 592.2,394.4 593.2,398.3C594.2,402.3 594.2,407.3 595.6,410.3C597.0,413.3 598.6,414.6 601.6,416.2C604.5,417.8 608.7,418.8 613.5,419.8C618.3,420.8 625.0,421.0 630.2,422.2C635.4,423.4 640.5,424.6 644.5,427.0C648.5,429.4 651.5,432.9 654.0,436.5C656.6,440.1 658.9,444.5 660.0,448.4C661.1,452.4 661.1,456.8 660.7,460.4C660.3,463.9 657.8,468.3 657.6,469.9C657.4,471.5 660.6,467.4 659.4,470.0C658.1,472.6 651.8,483.1 650.3,485.7" fill="none" stroke="url(#g2)" stroke-width="14"/><path d="M581.3,374.5C582.7,376.5 587.6,382.4 589.6,386.4C591.6,390.4 592.2,394.4 593.2,398.3C594.2,402.3 594.2,407.3 595.6,410.3C597.0,413.3 598.6,414.6 601.6,416.2C604.5,417.8 608.7,418.8 613.5,419.8C618.3,420.8 625.0,421.0 630.2,422.2C635.4,423.4 640.5,424.6 644.5,427.0C648.5,429.4 651.5,432.9 654.0,436.5C656.6,440.1 658.9,444.5 660.0,448.4C661.1,452.4 661.1,456.8 660.7,460.4C660.3,463.9 657.8,468.3 657.6,469.9C657.4,471.5 660.6,467.4 659.4,470.0C658.1,472.6 651.8,483.1 650.3,485.7" fill="none" stroke="url(#g3)" stroke-width="22"/>
<path d="M756.6,556.5C756.9,558.3 758.7,563.5 758.5,567.2C758.3,571.0 757.3,575.6 755.4,579.2C753.5,582.8 749.8,585.7 747.1,588.7C744.3,591.7 741.2,594.3 738.7,597.1C736.3,599.8 733.6,602.0 732.3,605.4C731.0,608.8 731.4,613.4 730.8,617.3C730.3,621.3 730.0,625.3 729.2,629.3C728.3,633.2 727.0,637.2 725.6,641.2C724.2,645.2 722.6,649.1 720.8,653.1C719.0,657.1 716.7,661.1 714.9,665.0C713.1,669.0 711.5,673.0 710.1,677.0C708.7,680.9 707.3,685.7 706.5,688.9C705.7,692.1 705.5,694.9 705.3,696.1" fill="none" stroke="url(#k1)" stroke-width="6"/><path d="M756.6,556.5C756.9,558.3 758.7,563.5 758.5,567.2C758.3,571.0 757.3,575.6 755.4,579.2C753.5,582.8 749.8,585.7 747.1,588.7C744.3,591.7 741.2,594.3 738.7,597.1C736.3,599.8 733.6,602.0 732.3,605.4C731.0,608.8 731.4,613.4 730.8,617.3C730.3,621.3 730.0,625.3 729.2,629.3C728.3,633.2 727.0,637.2 725.6,641.2C724.2,645.2 722.6,649.1 720.8,653.1C719.0,657.1 716.7,661.1 714.9,665.0C713.1,669.0 711.5,673.0 710.1,677.0C708.7,680.9 707.3,685.7 706.5,688.9C705.7,692.1 705.5,694.9 705.3,696.1" fill="none" stroke="url(#k2)" stroke-width="14"/><path d="M756.6,556.5C756.9,558.3 758.7,563.5 758.5,567.2C758.3,571.0 757.3,575.6 755.4,579.2C753.5,582.8 749.8,585.7 747.1,588.7C744.3,591.7 741.2,594.3 738.7,597.1C736.3,599.8 733.6,602.0 732.3,605.4C731.0,608.8 731.4,613.4 730.8,617.3C730.3,621.3 730.0,625.3 729.2,629.3C728.3,633.2 727.0,637.2 725.6,641.2C724.2,645.2 722.6,649.1 720.8,653.1C719.0,657.1 716.7,661.1 714.9,665.0C713.1,669.0 711.5,673.0 710.1,677.0C708.7,680.9 707.3,685.7 706.5,688.9C705.7,692.1 705.5,694.9 705.3,696.1" fill="none" stroke="url(#k3)" stroke-width="22"/><path d="M756.6,556.5C756.9,558.3 758.7,563.5 758.5,567.2C758.3,571.0 757.3,575.6 755.4,579.2C753.5,582.8 749.8,585.7 747.1,588.7C744.3,591.7 741.2,594.3 738.7,597.1C736.3,599.8 733.6,602.0 732.3,605.4C731.0,608.8 731.4,613.4 730.8,617.3C730.3,621.3 730.0,625.3 729.2,629.3C728.3,633.2 727.0,637.2 725.6,641.2C724.2,645.2 722.6,649.1 720.8,653.1C719.0,657.1 716.7,661.1 714.9,665.0C713.1,669.0 711.5,673.0 710.1,677.0C708.7,680.9 707.3,685.7 706.5,688.9C705.7,692.1 705.5,694.9 705.3,696.1" fill="none" stroke="url(#g1)" stroke-width="6"/><path d="M756.6,556.5C756.9,558.3 758.7,563.5 758.5,567.2C758.3,571.0 757.3,575.6 755.4,579.2C753.5,582.8 749.8,585.7 747.1,588.7C744.3,591.7 741.2,594.3 738.7,597.1C736.3,599.8 733.6,602.0 732.3,605.4C731.0,608.8 731.4,613.4 730.8,617.3C730.3,621.3 730.0,625.3 729.2,629.3C728.3,633.2 727.0,637.2 725.6,641.2C724.2,645.2 722.6,649.1 720.8,653.1C719.0,657.1 716.7,661.1 714.9,665.0C713.1,669.0 711.5,673.0 710.1,677.0C708.7,680.9 707.3,685.7 706.5,688.9C705.7,692.1 705.5,694.9 705.3,696.1" fill="none" stroke="url(#g2)" stroke-width="14"/><path d="M756.6,556.5C756.9,558.3 758.7,563.5 758.5,567.2C758.3,571.0 757.3,575.6 755.4,579.2C753.5,582.8 749.8,585.7 747.1,588.7C744.3,591.7 741.2,594.3 738.7,597.1C736.3,599.8 733.6,602.0 732.3,605.4C731.0,608.8 731.4,613.4 730.8,617.3C730.3,621.3 730.0,625.3 729.2,629.3C728.3,633.2 727.0,637.2 725.6,641.2C724.2,645.2 722.6,649.1 720.8,653.1C719.0,657.1 716.7,661.1 714.9,665.0C713.1,669.0 711.5,673.0 710.1,677.0C708.7,680.9 707.3,685.7 706.5,688.9C705.7,692.1 705.5,694.9 705.3,696.1" fill="none" stroke="url(#g3)" stroke-width="22"/>
<path d="M751.8,267.2C752.6,269.9 755.2,278.3 756.6,283.9C758.0,289.4 758.8,295.4 760.2,300.6C761.6,305.7 762.8,310.1 765.0,314.9C767.1,319.6 770.3,325.4 773.3,329.2C776.3,333.0 779.7,335.5 782.8,337.5C786.0,339.5 789.2,340.7 792.4,341.1C795.6,341.5 800.3,340.1 801.9,339.9" fill="none" stroke="url(#k1)" stroke-width="6"/><path d="M751.8,267.2C752.6,269.9 755.2,278.3 756.6,283.9C758.0,289.4 758.8,295.4 760.2,300.6C761.6,305.7 762.8,310.1 765.0,314.9C767.1,319.6 770.3,325.4 773.3,329.2C776.3,333.0 779.7,335.5 782.8,337.5C786.0,339.5 789.2,340.7 792.4,341.1C795.6,341.5 800.3,340.1 801.9,339.9" fill="none" stroke="url(#k2)" stroke-width="14"/><path d="M751.8,267.2C752.6,269.9 755.2,278.3 756.6,283.9C758.0,289.4 758.8,295.4 760.2,300.6C761.6,305.7 762.8,310.1 765.0,314.9C767.1,319.6 770.3,325.4 773.3,329.2C776.3,333.0 779.7,335.5 782.8,337.5C786.0,339.5 789.2,340.7 792.4,341.1C795.6,341.5 800.3,340.1 801.9,339.9" fill="none" stroke="url(#k3)" stroke-width="22"/><path d="M751.8,267.2C752.6,269.9 755.2,278.3 756.6,283.9C758.0,289.4 758.8,295.4 760.2,300.6C761.6,305.7 762.8,310.1 765.0,314.9C767.1,319.6 770.3,325.4 773.3,329.2C776.3,333.0 779.7,335.5 782.8,337.5C786.0,339.5 789.2,340.7 792.4,341.1C795.6,341.5 800.3,340.1 801.9,339.9" fill="none" stroke="url(#g1)" stroke-width="6"/><path d="M751.8,267.2C752.6,269.9 755.2,278.3 756.6,283.9C758.0,289.4 758.8,295.4 760.2,300.6C761.6,305.7 762.8,310.1 765.0,314.9C767.1,319.6 770.3,325.4 773.3,329.2C776.3,333.0 779.7,335.5 782.8,337.5C786.0,339.5 789.2,340.7 792.4,341.1C795.6,341.5 800.3,340.1 801.9,339.9" fill="none" stroke="url(#g2)" stroke-width="14"/><path d="M751.8,267.2C752.6,269.9 755.2,278.3 756.6,283.9C758.0,289.4 758.8,295.4 760.2,300.6C761.6,305.7 762.8,310.1 765.0,314.9C767.1,319.6 770.3,325.4 773.3,329.2C776.3,333.0 779.7,335.5 782.8,337.5C786.0,339.5 789.2,340.7 792.4,341.1C795.6,341.5 800.3,340.1 801.9,339.9" fill="none" stroke="url(#g3)" stroke-width="22"/>
<path d="M916.0,324.4C916.2,326.8 917.1,333.5 917.2,338.7C917.2,343.9 916.3,349.8 916.4,355.4C916.6,361.0 918.0,366.9 917.9,372.1C917.8,377.3 916.9,381.7 916.0,386.4C915.0,391.2 913.0,396.0 912.4,400.7C911.8,405.5 911.4,410.7 912.4,415.0C913.4,419.4 915.4,423.4 918.3,427.0C921.3,430.6 925.9,433.7 930.3,436.5C934.6,439.3 941.0,440.5 944.6,443.7C948.2,446.9 949.0,451.6 951.7,455.6C954.5,459.6 957.3,463.9 961.3,467.5C965.3,471.1 970.8,474.5 975.6,477.1C980.4,479.6 985.1,481.4 989.9,483.0C994.7,484.6 999.4,486.2 1004.2,486.6C1009.0,487.0 1014.6,485.8 1018.5,485.4C1022.5,485.0 1026.5,484.4 1028.1,484.2" fill="none" stroke="url(#k1)" stroke-width="6"/><path d="M916.0,324.4C916.2,326.8 917.1,333.5 917.2,338.7C917.2,343.9 916.3,349.8 916.4,355.4C916.6,361.0 918.0,366.9 917.9,372.1C917.8,377.3 916.9,381.7 916.0,386.4C915.0,391.2 913.0,396.0 912.4,400.7C911.8,405.5 911.4,410.7 912.4,415.0C913.4,419.4 915.4,423.4 918.3,427.0C921.3,430.6 925.9,433.7 930.3,436.5C934.6,439.3 941.0,440.5 944.6,443.7C948.2,446.9 949.0,451.6 951.7,455.6C954.5,459.6 957.3,463.9 961.3,467.5C965.3,471.1 970.8,474.5 975.6,477.1C980.4,479.6 985.1,481.4 989.9,483.0C994.7,484.6 999.4,486.2 1004.2,486.6C1009.0,487.0 1014.6,485.8 1018.5,485.4C1022.5,485.0 1026.5,484.4 1028.1,484.2" fill="none" stroke="url(#k2)" stroke-width="14"/><path d="M916.0,324.4C916.2,326.8 917.1,333.5 917.2,338.7C917.2,343.9 916.3,349.8 916.4,355.4C916.6,361.0 918.0,366.9 917.9,372.1C917.8,377.3 916.9,381.7 916.0,386.4C915.0,391.2 913.0,396.0 912.4,400.7C911.8,405.5 911.4,410.7 912.4,415.0C913.4,419.4 915.4,423.4 918.3,427.0C921.3,430.6 925.9,433.7 930.3,436.5C934.6,439.3 941.0,440.5 944.6,443.7C948.2,446.9 949.0,451.6 951.7,455.6C954.5,459.6 957.3,463.9 961.3,467.5C965.3,471.1 970.8,474.5 975.6,477.1C980.4,479.6 985.1,481.4 989.9,483.0C994.7,484.6 999.4,486.2 1004.2,486.6C1009.0,487.0 1014.6,485.8 1018.5,485.4C1022.5,485.0 1026.5,484.4 1028.1,484.2" fill="none" stroke="url(#k3)" stroke-width="22"/><path d="M916.0,324.4C916.2,326.8 917.1,333.5 917.2,338.7C917.2,343.9 916.3,349.8 916.4,355.4C916.6,361.0 918.0,366.9 917.9,372.1C917.8,377.3 916.9,381.7 916.0,386.4C915.0,391.2 913.0,396.0 912.4,400.7C911.8,405.5 911.4,410.7 912.4,415.0C913.4,419.4 915.4,423.4 918.3,427.0C921.3,430.6 925.9,433.7 930.3,436.5C934.6,439.3 941.0,440.5 944.6,443.7C948.2,446.9 949.0,451.6 951.7,455.6C954.5,459.6 957.3,463.9 961.3,467.5C965.3,471.1 970.8,474.5 975.6,477.1C980.4,479.6 985.1,481.4 989.9,483.0C994.7,484.6 999.4,486.2 1004.2,486.6C1009.0,487.0 1014.6,485.8 1018.5,485.4C1022.5,485.0 1026.5,484.4 1028.1,484.2" fill="none" stroke="url(#g1)" stroke-width="6"/><path d="M916.0,324.4C916.2,326.8 917.1,333.5 917.2,338.7C917.2,343.9 916.3,349.8 916.4,355.4C916.6,361.0 918.0,366.9 917.9,372.1C917.8,377.3 916.9,381.7 916.0,386.4C915.0,391.2 913.0,396.0 912.4,400.7C911.8,405.5 911.4,410.7 912.4,415.0C913.4,419.4 915.4,423.4 918.3,427.0C921.3,430.6 925.9,433.7 930.3,436.5C934.6,439.3 941.0,440.5 944.6,443.7C948.2,446.9 949.0,451.6 951.7,455.6C954.5,459.6 957.3,463.9 961.3,467.5C965.3,471.1 970.8,474.5 975.6,477.1C980.4,479.6 985.1,481.4 989.9,483.0C994.7,484.6 999.4,486.2 1004.2,486.6C1009.0,487.0 1014.6,485.8 1018.5,485.4C1022.5,485.0 1026.5,484.4 1028.1,484.2" fill="none" stroke="url(#g2)" stroke-width="14"/><path d="M916.0,324.4C916.2,326.8 917.1,333.5 917.2,338.7C917.2,343.9 916.3,349.8 916.4,355.4C916.6,361.0 918.0,366.9 917.9,372.1C917.8,377.3 916.9,381.7 916.0,386.4C915.0,391.2 913.0,396.0 912.4,400.7C911.8,405.5 911.4,410.7 912.4,415.0C913.4,419.4 915.4,423.4 918.3,427.0C921.3,430.6 925.9,433.7 930.3,436.5C934.6,439.3 941.0,440.5 944.6,443.7C948.2,446.9 949.0,451.6 951.7,455.6C954.5,459.6 957.3,463.9 961.3,467.5C965.3,471.1 970.8,474.5 975.6,477.1C980.4,479.6 985.1,481.4 989.9,483.0C994.7,484.6 999.4,486.2 1004.2,486.6C1009.0,487.0 1014.6,485.8 1018.5,485.4C1022.5,485.0 1026.5,484.4 1028.1,484.2" fill="none" stroke="url(#g3)" stroke-width="22"/>
<path d="M966.1,355.4C965.9,358.6 965.3,368.1 964.9,374.5C964.5,380.9 963.1,388.8 963.7,393.6C964.3,398.3 966.1,400.7 968.4,403.1C970.8,405.5 974.8,405.5 978.0,407.9C981.2,410.3 984.7,413.9 987.5,417.4C990.3,421.0 991.9,426.0 994.7,429.4C997.5,432.7 1000.8,436.3 1004.2,437.7C1007.6,439.1 1013.2,437.7 1015.0,437.7" fill="none" stroke="url(#k1)" stroke-width="6"/><path d="M966.1,355.4C965.9,358.6 965.3,368.1 964.9,374.5C964.5,380.9 963.1,388.8 963.7,393.6C964.3,398.3 966.1,400.7 968.4,403.1C970.8,405.5 974.8,405.5 978.0,407.9C981.2,410.3 984.7,413.9 987.5,417.4C990.3,421.0 991.9,426.0 994.7,429.4C997.5,432.7 1000.8,436.3 1004.2,437.7C1007.6,439.1 1013.2,437.7 1015.0,437.7" fill="none" stroke="url(#k2)" stroke-width="14"/><path d="M966.1,355.4C965.9,358.6 965.3,368.1 964.9,374.5C964.5,380.9 963.1,388.8 963.7,393.6C964.3,398.3 966.1,400.7 968.4,403.1C970.8,405.5 974.8,405.5 978.0,407.9C981.2,410.3 984.7,413.9 987.5,417.4C990.3,421.0 991.9,426.0 994.7,429.4C997.5,432.7 1000.8,436.3 1004.2,437.7C1007.6,439.1 1013.2,437.7 1015.0,437.7" fill="none" stroke="url(#k3)" stroke-width="22"/><path d="M966.1,355.4C965.9,358.6 965.3,368.1 964.9,374.5C964.5,380.9 963.1,388.8 963.7,393.6C964.3,398.3 966.1,400.7 968.4,403.1C970.8,405.5 974.8,405.5 978.0,407.9C981.2,410.3 984.7,413.9 987.5,417.4C990.3,421.0 991.9,426.0 994.7,429.4C997.5,432.7 1000.8,436.3 1004.2,437.7C1007.6,439.1 1013.2,437.7 1015.0,437.7" fill="none" stroke="url(#g1)" stroke-width="6"/><path d="M966.1,355.4C965.9,358.6 965.3,368.1 964.9,374.5C964.5,380.9 963.1,388.8 963.7,393.6C964.3,398.3 966.1,400.7 968.4,403.1C970.8,405.5 974.8,405.5 978.0,407.9C981.2,410.3 984.7,413.9 987.5,417.4C990.3,421.0 991.9,426.0 994.7,429.4C997.5,432.7 1000.8,436.3 1004.2,437.7C1007.6,439.1 1013.2,437.7 1015.0,437.7" fill="none" stroke="url(#g2)" stroke-width="14"/><path d="M966.1,355.4C965.9,358.6 965.3,368.1 964.9,374.5C964.5,380.9 963.1,388.8 963.7,393.6C964.3,398.3 966.1,400.7 968.4,403.1C970.8,405.5 974.8,405.5 978.0,407.9C981.2,410.3 984.7,413.9 987.5,417.4C990.3,421.0 991.9,426.0 994.7,429.4C997.5,432.7 1000.8,436.3 1004.2,437.7C1007.6,439.1 1013.2,437.7 1015.0,437.7" fill="none" stroke="url(#g3)" stroke-width="22"/>
<path d="M819.4,516.0C822.7,515.6 832.3,514.0 839.6,513.6C847.0,513.2 855.5,513.4 863.5,513.6C871.4,513.8 879.8,514.2 887.3,514.8C894.9,515.4 902.8,516.0 908.8,517.2C914.8,518.3 919.1,519.9 923.1,521.9C927.1,523.9 930.1,526.3 932.7,529.1C935.2,531.9 937.2,535.0 938.6,538.6C940.0,542.2 941.0,547.0 941.0,550.6C941.0,554.1 939.6,556.9 938.6,560.1C937.6,563.3 936.4,566.5 935.0,569.6C933.7,572.8 932.3,576.4 930.3,579.2C928.3,582.0 924.7,583.5 923.1,586.3C921.5,589.1 921.1,592.3 920.7,595.9C920.3,599.4 919.9,604.6 920.7,607.8C921.5,611.0 923.1,613.0 925.5,615.0C927.9,616.9 931.9,617.7 935.0,619.7C938.2,621.7 942.2,624.9 944.6,626.9C947.0,628.9 948.2,629.9 949.4,631.7C950.5,633.4 950.9,636.6 951.3,637.6" fill="none" stroke="url(#k1)" stroke-width="6"/><path d="M819.4,516.0C822.7,515.6 832.3,514.0 839.6,513.6C847.0,513.2 855.5,513.4 863.5,513.6C871.4,513.8 879.8,514.2 887.3,514.8C894.9,515.4 902.8,516.0 908.8,517.2C914.8,518.3 919.1,519.9 923.1,521.9C927.1,523.9 930.1,526.3 932.7,529.1C935.2,531.9 937.2,535.0 938.6,538.6C940.0,542.2 941.0,547.0 941.0,550.6C941.0,554.1 939.6,556.9 938.6,560.1C937.6,563.3 936.4,566.5 935.0,569.6C933.7,572.8 932.3,576.4 930.3,579.2C928.3,582.0 924.7,583.5 923.1,586.3C921.5,589.1 921.1,592.3 920.7,595.9C920.3,599.4 919.9,604.6 920.7,607.8C921.5,611.0 923.1,613.0 925.5,615.0C927.9,616.9 931.9,617.7 935.0,619.7C938.2,621.7 942.2,624.9 944.6,626.9C947.0,628.9 948.2,629.9 949.4,631.7C950.5,633.4 950.9,636.6 951.3,637.6" fill="none" stroke="url(#k2)" stroke-width="14"/><path d="M819.4,516.0C822.7,515.6 832.3,514.0 839.6,513.6C847.0,513.2 855.5,513.4 863.5,513.6C871.4,513.8 879.8,514.2 887.3,514.8C894.9,515.4 902.8,516.0 908.8,517.2C914.8,518.3 919.1,519.9 923.1,521.9C927.1,523.9 930.1,526.3 932.7,529.1C935.2,531.9 937.2,535.0 938.6,538.6C940.0,542.2 941.0,547.0 941.0,550.6C941.0,554.1 939.6,556.9 938.6,560.1C937.6,563.3 936.4,566.5 935.0,569.6C933.7,572.8 932.3,576.4 930.3,579.2C928.3,582.0 924.7,583.5 923.1,586.3C921.5,589.1 921.1,592.3 920.7,595.9C920.3,599.4 919.9,604.6 920.7,607.8C921.5,611.0 923.1,613.0 925.5,615.0C927.9,616.9 931.9,617.7 935.0,619.7C938.2,621.7 942.2,624.9 944.6,626.9C947.0,628.9 948.2,629.9 949.4,631.7C950.5,633.4 950.9,636.6 951.3,637.6" fill="none" stroke="url(#k3)" stroke-width="22"/><path d="M819.4,516.0C822.7,515.6 832.3,514.0 839.6,513.6C847.0,513.2 855.5,513.4 863.5,513.6C871.4,513.8 879.8,514.2 887.3,514.8C894.9,515.4 902.8,516.0 908.8,517.2C914.8,518.3 919.1,519.9 923.1,521.9C927.1,523.9 930.1,526.3 932.7,529.1C935.2,531.9 937.2,535.0 938.6,538.6C940.0,542.2 941.0,547.0 941.0,550.6C941.0,554.1 939.6,556.9 938.6,560.1C937.6,563.3 936.4,566.5 935.0,569.6C933.7,572.8 932.3,576.4 930.3,579.2C928.3,582.0 924.7,583.5 923.1,586.3C921.5,589.1 921.1,592.3 920.7,595.9C920.3,599.4 919.9,604.6 920.7,607.8C921.5,611.0 923.1,613.0 925.5,615.0C927.9,616.9 931.9,617.7 935.0,619.7C938.2,621.7 942.2,624.9 944.6,626.9C947.0,628.9 948.2,629.9 949.4,631.7C950.5,633.4 950.9,636.6 951.3,637.6" fill="none" stroke="url(#g1)" stroke-width="6"/><path d="M819.4,516.0C822.7,515.6 832.3,514.0 839.6,513.6C847.0,513.2 855.5,513.4 863.5,513.6C871.4,513.8 879.8,514.2 887.3,514.8C894.9,515.4 902.8,516.0 908.8,517.2C914.8,518.3 919.1,519.9 923.1,521.9C927.1,523.9 930.1,526.3 932.7,529.1C935.2,531.9 937.2,535.0 938.6,538.6C940.0,542.2 941.0,547.0 941.0,550.6C941.0,554.1 939.6,556.9 938.6,560.1C937.6,563.3 936.4,566.5 935.0,569.6C933.7,572.8 932.3,576.4 930.3,579.2C928.3,582.0 924.7,583.5 923.1,586.3C921.5,589.1 921.1,592.3 920.7,595.9C920.3,599.4 919.9,604.6 920.7,607.8C921.5,611.0 923.1,613.0 925.5,615.0C927.9,616.9 931.9,617.7 935.0,619.7C938.2,621.7 942.2,624.9 944.6,626.9C947.0,628.9 948.2,629.9 949.4,631.7C950.5,633.4 950.9,636.6 951.3,637.6" fill="none" stroke="url(#g2)" stroke-width="14"/><path d="M819.4,516.0C822.7,515.6 832.3,514.0 839.6,513.6C847.0,513.2 855.5,513.4 863.5,513.6C871.4,513.8 879.8,514.2 887.3,514.8C894.9,515.4 902.8,516.0 908.8,517.2C914.8,518.3 919.1,519.9 923.1,521.9C927.1,523.9 930.1,526.3 932.7,529.1C935.2,531.9 937.2,535.0 938.6,538.6C940.0,542.2 941.0,547.0 941.0,550.6C941.0,554.1 939.6,556.9 938.6,560.1C937.6,563.3 936.4,566.5 935.0,569.6C933.7,572.8 932.3,576.4 930.3,579.2C928.3,582.0 924.7,583.5 923.1,586.3C921.5,589.1 921.1,592.3 920.7,595.9C920.3,599.4 919.9,604.6 920.7,607.8C921.5,611.0 923.1,613.0 925.5,615.0C927.9,616.9 931.9,617.7 935.0,619.7C938.2,621.7 942.2,624.9 944.6,626.9C947.0,628.9 948.2,629.9 949.4,631.7C950.5,633.4 950.9,636.6 951.3,637.6" fill="none" stroke="url(#g3)" stroke-width="22"/>
</g>
<path d="M837.2,481.8C837.9,479.8 843.4,475.9 845.6,474.0C847.8,472.1 849.1,471.9 850.4,470.4C851.6,468.9 851.2,466.7 853.0,465.1C854.8,463.5 858.6,462.3 861.1,460.8C863.6,459.4 866.1,457.9 868.3,456.3C870.4,454.8 872.3,452.9 874.2,451.5C876.2,450.1 878.1,448.5 880.0,447.9C881.9,447.2 883.9,447.4 885.9,447.6C887.8,447.8 889.9,448.3 891.7,449.4C893.6,450.4 895.3,452.0 896.9,453.8C898.5,455.5 899.9,457.7 901.3,459.6C902.6,461.6 904.0,463.9 905.0,465.5C905.9,467.1 906.4,468.4 907.2,469.2C907.9,469.9 908.6,470.3 909.4,469.9C910.1,469.5 910.6,467.4 911.6,466.7C912.5,466.0 914.1,465.6 915.2,465.8C916.4,466.0 917.7,466.5 918.5,467.7C919.2,468.9 919.4,471.3 919.9,472.8C920.5,474.4 921.0,476.0 921.8,477.2C922.6,478.5 923.8,479.7 924.8,480.5C925.7,481.2 926.7,481.9 927.7,481.7C928.7,481.4 929.9,479.9 930.6,478.7C931.4,477.5 931.9,475.5 932.1,474.3C932.4,473.1 932.5,472.6 932.1,471.4C931.7,470.2 930.5,468.7 929.9,467.0C929.3,465.3 928.6,462.7 928.7,461.1C928.9,459.5 929.8,458.2 930.6,457.4C931.4,456.6 932.5,456.2 933.6,456.4C934.7,456.6 936.1,457.6 937.2,458.9C938.3,460.2 939.1,462.2 940.2,464.0C941.3,465.9 942.6,468.0 943.9,469.9C945.1,471.9 946.6,474.1 947.5,475.8C948.4,477.5 949.2,478.7 949.3,480.2C949.4,481.7 949.0,483.6 948.3,484.6C947.5,485.6 945.9,485.9 944.6,486.3C943.2,486.8 941.5,486.9 940.2,487.5C938.8,488.2 937.9,489.6 936.5,490.2C935.2,490.8 933.6,491.3 932.1,491.2C930.6,491.1 929.3,490.4 927.7,489.7C926.1,489.1 924.2,487.8 922.6,487.2C921.0,486.6 919.8,486.0 918.2,486.1C916.6,486.2 914.6,487.1 913.0,487.8C911.4,488.5 910.0,489.7 908.6,490.2C907.3,490.7 906.2,490.9 905.0,490.8C903.7,490.6 902.6,490.0 901.3,489.0C899.9,488.0 898.3,486.3 896.9,484.6C895.4,482.9 893.9,480.6 892.5,478.7C891.0,476.9 889.5,475.0 888.1,473.6C886.6,472.1 885.0,470.8 883.7,469.9C882.3,469.1 881.4,468.9 880.0,468.4C878.6,468.0 877.4,466.8 875.4,467.0C873.5,467.3 871.0,468.6 868.3,469.9C865.5,471.2 861.9,472.9 858.7,474.7C855.5,476.5 852.0,478.7 849.2,480.6C846.3,482.6 843.5,485.9 841.5,486.1C839.6,486.3 836.6,483.9 837.2,481.8Z" fill="#60cac6"/><path d="M837.2,481.8C837.9,479.8 843.4,475.9 845.6,474.0C847.8,472.1 849.1,471.9 850.4,470.4C851.6,468.9 851.2,466.7 853.0,465.1C854.8,463.5 858.6,462.3 861.1,460.8C863.6,459.4 866.1,457.9 868.3,456.3C870.4,454.8 872.3,452.9 874.2,451.5C876.2,450.1 878.1,448.5 880.0,447.9C881.9,447.2 883.9,447.4 885.9,447.6C887.8,447.8 889.9,448.3 891.7,449.4C893.6,450.4 895.3,452.0 896.9,453.8C898.5,455.5 899.9,457.7 901.3,459.6C902.6,461.6 904.0,463.9 905.0,465.5C905.9,467.1 906.4,468.4 907.2,469.2C907.9,469.9 908.6,470.3 909.4,469.9C910.1,469.5 910.6,467.4 911.6,466.7C912.5,466.0 914.1,465.6 915.2,465.8C916.4,466.0 917.7,466.5 918.5,467.7C919.2,468.9 919.4,471.3 919.9,472.8C920.5,474.4 921.0,476.0 921.8,477.2C922.6,478.5 923.8,479.7 924.8,480.5C925.7,481.2 926.7,481.9 927.7,481.7C928.7,481.4 929.9,479.9 930.6,478.7C931.4,477.5 931.9,475.5 932.1,474.3C932.4,473.1 932.5,472.6 932.1,471.4C931.7,470.2 930.5,468.7 929.9,467.0C929.3,465.3 928.6,462.7 928.7,461.1C928.9,459.5 929.8,458.2 930.6,457.4C931.4,456.6 932.5,456.2 933.6,456.4C934.7,456.6 936.1,457.6 937.2,458.9C938.3,460.2 939.1,462.2 940.2,464.0C941.3,465.9 942.6,468.0 943.9,469.9C945.1,471.9 946.6,474.1 947.5,475.8C948.4,477.5 949.2,478.7 949.3,480.2C949.4,481.7 949.0,483.6 948.3,484.6C947.5,485.6 945.9,485.9 944.6,486.3C943.2,486.8 941.5,486.9 940.2,487.5C938.8,488.2 937.9,489.6 936.5,490.2C935.2,490.8 933.6,491.3 932.1,491.2C930.6,491.1 929.3,490.4 927.7,489.7C926.1,489.1 924.2,487.8 922.6,487.2C921.0,486.6 919.8,486.0 918.2,486.1C916.6,486.2 914.6,487.1 913.0,487.8C911.4,488.5 910.0,489.7 908.6,490.2C907.3,490.7 906.2,490.9 905.0,490.8C903.7,490.6 902.6,490.0 901.3,489.0C899.9,488.0 898.3,486.3 896.9,484.6C895.4,482.9 893.9,480.6 892.5,478.7C891.0,476.9 889.5,475.0 888.1,473.6C886.6,472.1 885.0,470.8 883.7,469.9C882.3,469.1 881.4,468.9 880.0,468.4C878.6,468.0 877.4,466.8 875.4,467.0C873.5,467.3 871.0,468.6 868.3,469.9C865.5,471.2 861.9,472.9 858.7,474.7C855.5,476.5 852.0,478.7 849.2,480.6C846.3,482.6 843.5,485.9 841.5,486.1C839.6,486.3 836.6,483.9 837.2,481.8Z" fill="url(#hs)"/>
<path d="M947.0,489.1C947.6,488.6 949.0,489.5 949.9,490.3C950.8,491.1 951.6,492.3 952.4,494.0C953.1,495.8 953.6,498.4 954.4,500.6C955.3,502.8 956.0,505.0 957.3,507.2C958.6,509.4 960.5,511.7 962.3,513.9C964.1,516.1 966.3,518.5 968.1,520.5C969.9,522.4 971.5,524.0 973.0,525.4C974.5,526.8 975.8,528.0 977.2,528.7C978.5,529.4 979.8,529.7 981.3,529.8C982.8,529.9 985.6,529.0 986.2,529.5C986.9,530.1 985.6,531.7 985.0,532.8C984.4,534.0 983.7,535.9 982.9,536.6C982.2,537.2 981.4,537.2 980.5,537.0C979.6,536.8 978.5,536.2 977.6,535.3C976.6,534.4 976.1,533.0 974.7,531.6C973.2,530.2 971.0,528.6 968.9,527.1C966.8,525.6 964.5,524.2 962.3,522.5C960.1,520.9 957.8,519.0 955.7,517.2C953.6,515.3 951.4,513.3 949.9,511.4C948.4,509.4 947.3,507.7 946.6,505.6C945.9,503.5 945.6,501.1 945.6,499.0C945.6,496.9 946.4,494.9 946.6,493.2C946.8,491.6 946.5,489.6 947.0,489.1Z" fill="#60cac6"/><path d="M947.0,489.1C947.6,488.6 949.0,489.5 949.9,490.3C950.8,491.1 951.6,492.3 952.4,494.0C953.1,495.8 953.6,498.4 954.4,500.6C955.3,502.8 956.0,505.0 957.3,507.2C958.6,509.4 960.5,511.7 962.3,513.9C964.1,516.1 966.3,518.5 968.1,520.5C969.9,522.4 971.5,524.0 973.0,525.4C974.5,526.8 975.8,528.0 977.2,528.7C978.5,529.4 979.8,529.7 981.3,529.8C982.8,529.9 985.6,529.0 986.2,529.5C986.9,530.1 985.6,531.7 985.0,532.8C984.4,534.0 983.7,535.9 982.9,536.6C982.2,537.2 981.4,537.2 980.5,537.0C979.6,536.8 978.5,536.2 977.6,535.3C976.6,534.4 976.1,533.0 974.7,531.6C973.2,530.2 971.0,528.6 968.9,527.1C966.8,525.6 964.5,524.2 962.3,522.5C960.1,520.9 957.8,519.0 955.7,517.2C953.6,515.3 951.4,513.3 949.9,511.4C948.4,509.4 947.3,507.7 946.6,505.6C945.9,503.5 945.6,501.1 945.6,499.0C945.6,496.9 946.4,494.9 946.6,493.2C946.8,491.6 946.5,489.6 947.0,489.1Z" fill="url(#hs)"/>
<path d="M943.4,354.2C943.6,352.9 944.8,351.4 947.0,350.6C949.2,349.8 952.9,350.2 956.5,349.4C960.1,348.7 966.1,344.9 968.4,345.9C970.8,346.9 972.0,353.6 970.8,355.4C969.6,357.2 964.5,356.0 961.3,356.6C958.1,357.2 954.3,358.7 951.7,359.0C949.2,359.3 947.2,359.1 945.8,358.3C944.4,357.5 943.2,355.5 943.4,354.2Z" fill="#60cac6"/><path d="M943.4,354.2C943.6,352.9 944.8,351.4 947.0,350.6C949.2,349.8 952.9,350.2 956.5,349.4C960.1,348.7 966.1,344.9 968.4,345.9C970.8,346.9 972.0,353.6 970.8,355.4C969.6,357.2 964.5,356.0 961.3,356.6C958.1,357.2 954.3,358.7 951.7,359.0C949.2,359.3 947.2,359.1 945.8,358.3C944.4,357.5 943.2,355.5 943.4,354.2Z" fill="url(#hs)"/>
</g></svg>
<div class="t" style='left:78.70px;top:46.11px;font-family:"Liberation Serif", serif;font-size:93px;color:#ffffff;letter-spacing:-0.456px;-webkit-text-stroke:0.55px #ffffff;'>Causes</div>
<div class="t" style='left:355.13px;top:46.11px;font-family:"Liberation Serif", serif;font-size:93px;color:#ffffff;letter-spacing:1.116px;-webkit-text-stroke:0.55px #ffffff;transform:scaleX(1.0578);transform-origin:0 0;'>and</div>
<div class="t" style='left:519.00px;top:46.11px;font-family:"Liberation Serif", serif;font-size:93px;color:#ffffff;letter-spacing:-0.527px;-webkit-text-stroke:0.55px #ffffff;'>Effects</div>
<div class="t" style='left:792.03px;top:46.11px;font-family:"Liberation Serif", serif;font-size:93px;color:#ffffff;letter-spacing:-1.000px;-webkit-text-stroke:0.55px #ffffff;transform:scaleX(0.9891);transform-origin:0 0;'>of</div>
<div class="t" style='left:885.30px;top:46.11px;font-family:"Liberation Serif", serif;font-size:93px;color:#ffffff;letter-spacing:0.040px;-webkit-text-stroke:0.55px #ffffff;'>Climate</div>
<div class="t" style='left:1197.00px;top:46.11px;font-family:"Liberation Serif", serif;font-size:93px;color:#ffffff;letter-spacing:0.698px;-webkit-text-stroke:0.55px #ffffff;'>Change</div>
<div class="t" style='left:214.40px;top:240.86px;font-family:"Liberation Serif", serif;font-size:57px;color:#e2811f;letter-spacing:-0.660px;-webkit-text-stroke:0.4px #e2811f;'>Causes</div>
<div class="t" style='left:1187.20px;top:240.86px;font-family:"Liberation Serif", serif;font-size:57px;color:#e2811f;letter-spacing:-0.781px;-webkit-text-stroke:0.4px #e2811f;'>Effects</div>
<div class="t" style='left:119.00px;top:320.63px;font-family:"Liberation Sans", sans-serif;font-size:38px;color:#ffffff;letter-spacing:0.837px;'>Rapid</div>
<div class="t" style='left:235.30px;top:320.63px;font-family:"Liberation Sans", sans-serif;font-size:38px;color:#ffffff;letter-spacing:2.245px;'>industrialization</div>
<div class="t" style='left:119.00px;top:369.93px;font-family:"Liberation Sans", sans-serif;font-size:38px;color:#ffffff;letter-spacing:0.340px;'>Energy</div>
<div class="t" style='left:256.60px;top:369.93px;font-family:"Liberation Sans", sans-serif;font-size:38px;color:#ffffff;letter-spacing:0.683px;'>use</div>
<div class="t" style='left:119.80px;top:419.23px;font-family:"Liberation Sans", sans-serif;font-size:38px;color:#ffffff;letter-spacing:2.115px;'>Agricultural</div>
<div class="t" style='left:345.40px;top:419.23px;font-family:"Liberation Sans", sans-serif;font-size:38px;color:#ffffff;letter-spacing:1.493px;'>practices</div>
<div class="t" style='left:119.00px;top:468.53px;font-family:"Liberation Sans", sans-serif;font-size:38px;color:#ffffff;letter-spacing:2.293px;'>Deforestation</div>
<div class="t" style='left:120.40px;top:517.83px;font-family:"Liberation Sans", sans-serif;font-size:38px;color:#ffffff;letter-spacing:1.353px;'>Consumer</div>
<div class="t" style='left:320.20px;top:517.83px;font-family:"Liberation Sans", sans-serif;font-size:38px;color:#ffffff;letter-spacing:1.493px;'>practices</div>
<div class="t" style='left:119.00px;top:567.13px;font-family:"Liberation Sans", sans-serif;font-size:38px;color:#ffffff;letter-spacing:1.000px;'>Livestock</div>
<div class="t" style='left:120.60px;top:616.43px;font-family:"Liberation Sans", sans-serif;font-size:38px;color:#ffffff;letter-spacing:2.032px;'>Transport</div>
<div class="t" style='left:119.00px;top:665.73px;font-family:"Liberation Sans", sans-serif;font-size:38px;color:#ffffff;letter-spacing:0.843px;'>Resource</div>
<div class="t" style='left:301.60px;top:665.73px;font-family:"Liberation Sans", sans-serif;font-size:38px;color:#ffffff;letter-spacing:2.265px;'>extraction</div>
<div class="t" style='left:119.00px;top:715.03px;font-family:"Liberation Sans", sans-serif;font-size:38px;color:#ffffff;letter-spacing:2.271px;'>Pollution</div>
<div class="t" style='left:1091.00px;top:320.63px;font-family:"Liberation Sans", sans-serif;font-size:38px;color:#ffffff;letter-spacing:0.808px;'>Rising</div>
<div class="t" style='left:1214.60px;top:320.63px;font-family:"Liberation Sans", sans-serif;font-size:38px;color:#ffffff;letter-spacing:2.238px;'>temperatures</div>
<div class="t" style='left:1091.00px;top:369.93px;font-family:"Liberation Sans", sans-serif;font-size:38px;color:#ffffff;letter-spacing:0.808px;'>Rising</div>
<div class="t" style='left:1213.66px;top:369.93px;font-family:"Liberation Sans", sans-serif;font-size:38px;color:#ffffff;letter-spacing:-0.500px;transform:scaleX(0.9429);transform-origin:0 0;'>sea</div>
<div class="t" style='left:1286.50px;top:369.93px;font-family:"Liberation Sans", sans-serif;font-size:38px;color:#ffffff;letter-spacing:1.030px;'>levels</div>
<div class="t" style='left:1092.00px;top:419.23px;font-family:"Liberation Sans", sans-serif;font-size:38px;color:#ffffff;letter-spacing:2.030px;'>Unpredictable</div>
<div class="t" style='left:1093.60px;top:468.53px;font-family:"Liberation Sans", sans-serif;font-size:38px;color:#ffffff;letter-spacing:1.694px;'>weather</div>
<div class="t" style='left:1253.80px;top:468.53px;font-family:"Liberation Sans", sans-serif;font-size:38px;color:#ffffff;letter-spacing:2.314px;'>patterns</div>
<div class="t" style='left:1091.00px;top:517.83px;font-family:"Liberation Sans", sans-serif;font-size:38px;color:#ffffff;letter-spacing:1.212px;'>Increase</div>
<div class="t" style='left:1259.40px;top:517.83px;font-family:"Liberation Sans", sans-serif;font-size:38px;color:#ffffff;letter-spacing:2.058px;'>in</div>
<div class="t" style='left:1305.20px;top:517.83px;font-family:"Liberation Sans", sans-serif;font-size:38px;color:#ffffff;letter-spacing:2.211px;'>extreme</div>
<div class="t" style='left:1093.60px;top:567.13px;font-family:"Liberation Sans", sans-serif;font-size:38px;color:#ffffff;letter-spacing:1.694px;'>weather</div>
<div class="t" style='left:1254.80px;top:567.13px;font-family:"Liberation Sans", sans-serif;font-size:38px;color:#ffffff;letter-spacing:1.248px;'>events</div>
<div class="t" style='left:1091.00px;top:616.43px;font-family:"Liberation Sans", sans-serif;font-size:38px;color:#ffffff;letter-spacing:1.366px;'>Land</div>
<div class="t" style='left:1193.20px;top:616.43px;font-family:"Liberation Sans", sans-serif;font-size:38px;color:#ffffff;letter-spacing:2.221px;'>degradation</div>
<div class="t" style='left:1091.00px;top:665.73px;font-family:"Liberation Sans", sans-serif;font-size:38px;color:#ffffff;letter-spacing:0.077px;'>Loss</div>
<div class="t" style='left:1184.80px;top:665.73px;font-family:"Liberation Sans", sans-serif;font-size:38px;color:#ffffff;letter-spacing:2.566px;'>of</div>
<div class="t" style='left:1235.20px;top:665.73px;font-family:"Liberation Sans", sans-serif;font-size:38px;color:#ffffff;letter-spacing:2.100px;'>wildlife</div>
<div class="t" style='left:1377.90px;top:665.73px;font-family:"Liberation Sans", sans-serif;font-size:38px;color:#ffffff;letter-spacing:2.116px;'>and</div>
<div class="t" style='left:1092.00px;top:715.03px;font-family:"Liberation Sans", sans-serif;font-size:38px;color:#ffffff;letter-spacing:2.075px;'>biodiversity</div>
<div class="t" style='left:235.10px;top:810.06px;font-family:"Liberation Serif", serif;font-size:57px;color:#e2811f;letter-spacing:0.684px;-webkit-text-stroke:0.4px #e2811f;transform:scaleX(1.0505);transform-origin:0 0;'>What</div>
<div class="t" style='left:379.10px;top:810.06px;font-family:"Liberation Serif", serif;font-size:57px;color:#e2811f;letter-spacing:0.684px;-webkit-text-stroke:0.4px #e2811f;transform:scaleX(1.0481);transform-origin:0 0;'>are</div>
<div class="t" style='left:465.50px;top:810.06px;font-family:"Liberation Serif", serif;font-size:57px;color:#e2811f;letter-spacing:0.684px;-webkit-text-stroke:0.4px #e2811f;transform:scaleX(1.0516);transform-origin:0 0;'>the</div>
<div class="t" style='left:551.52px;top:810.06px;font-family:"Liberation Serif", serif;font-size:57px;color:#e2811f;letter-spacing:-1.000px;-webkit-text-stroke:0.4px #e2811f;transform:scaleX(0.9887);transform-origin:0 0;'>social</div>
<div class="t" style='left:690.10px;top:810.06px;font-family:"Liberation Serif", serif;font-size:57px;color:#e2811f;letter-spacing:0.132px;-webkit-text-stroke:0.4px #e2811f;'>impacts</div>
<div class="t" style='left:878.44px;top:810.06px;font-family:"Liberation Serif", serif;font-size:57px;color:#e2811f;letter-spacing:-1.000px;-webkit-text-stroke:0.4px #e2811f;transform:scaleX(0.9303);transform-origin:0 0;'>of</div>
<div class="t" style='left:934.60px;top:810.06px;font-family:"Liberation Serif", serif;font-size:57px;color:#e2811f;letter-spacing:0.309px;-webkit-text-stroke:0.4px #e2811f;'>climate</div>
<div class="t" style='left:1114.90px;top:810.06px;font-family:"Liberation Serif", serif;font-size:57px;color:#e2811f;letter-spacing:0.017px;-webkit-text-stroke:0.4px #e2811f;'>change?</div>
<div class="t" style='left:211.40px;top:891.66px;font-family:"Liberation Sans", sans-serif;font-size:37.5px;color:#ffffff;letter-spacing:-0.014px;'>Displaced</div>
<div class="t" style='left:386.90px;top:891.66px;font-family:"Liberation Sans", sans-serif;font-size:37.5px;color:#ffffff;letter-spacing:0.715px;'>people.</div>
<div class="t" style='left:523.80px;top:891.66px;font-family:"Liberation Sans", sans-serif;font-size:37.5px;color:#ffffff;letter-spacing:0.665px;'>Poverty.</div>
<div class="t" style='left:671.72px;top:891.66px;font-family:"Liberation Sans", sans-serif;font-size:37.5px;color:#ffffff;letter-spacing:-0.500px;transform:scaleX(0.9613);transform-origin:0 0;'>Loss</div>
<div class="t" style='left:758.20px;top:891.66px;font-family:"Liberation Sans", sans-serif;font-size:37.5px;color:#ffffff;letter-spacing:2.544px;'>of</div>
<div class="t" style='left:802.40px;top:891.66px;font-family:"Liberation Sans", sans-serif;font-size:37.5px;color:#ffffff;letter-spacing:0.825px;'>livelihood.</div>
<div class="t" style='left:985.50px;top:891.66px;font-family:"Liberation Sans", sans-serif;font-size:37.5px;color:#ffffff;letter-spacing:1.146px;'>Hunger.</div>
<div class="t" style='left:1132.10px;top:891.66px;font-family:"Liberation Sans", sans-serif;font-size:37.5px;color:#ffffff;letter-spacing:1.555px;'>Malnutrition.</div>
<div class="t" style='left:271.30px;top:941.16px;font-family:"Liberation Sans", sans-serif;font-size:37.5px;color:#ffffff;letter-spacing:-0.016px;'>Increased</div>
<div class="t" style='left:446.80px;top:941.16px;font-family:"Liberation Sans", sans-serif;font-size:37.5px;color:#ffffff;letter-spacing:0.077px;'>risk</div>
<div class="t" style='left:519.00px;top:941.16px;font-family:"Liberation Sans", sans-serif;font-size:37.5px;color:#ffffff;letter-spacing:2.544px;'>of</div>
<div class="t" style='left:562.10px;top:941.16px;font-family:"Liberation Sans", sans-serif;font-size:37.5px;color:#ffffff;letter-spacing:-0.500px;transform:scaleX(1.0000);transform-origin:0 0;'>diseases.</div>
<div class="t" style='left:727.00px;top:941.16px;font-family:"Liberation Sans", sans-serif;font-size:37.5px;color:#ffffff;letter-spacing:0.227px;'>Global</div>
<div class="t" style='left:847.30px;top:941.16px;font-family:"Liberation Sans", sans-serif;font-size:37.5px;color:#ffffff;letter-spacing:1.323px;'>food</div>
<div class="t" style='left:934.90px;top:941.16px;font-family:"Liberation Sans", sans-serif;font-size:37.5px;color:#ffffff;letter-spacing:0.494px;'>and</div>
<div class="t" style='left:1010.40px;top:941.16px;font-family:"Liberation Sans", sans-serif;font-size:37.5px;color:#ffffff;letter-spacing:0.897px;'>water</div>
<div class="t" style='left:1116.70px;top:941.16px;font-family:"Liberation Sans", sans-serif;font-size:37.5px;color:#ffffff;letter-spacing:0.379px;'>shortages.</div>
<div class="t" style='left:689.30px;top:1005.91px;font-family:"Liberation Serif", serif;font-size:45px;color:#ece8e3;letter-spacing:-0.715px;font-weight:700;'>GlobalGiving</div>
<div class="b" style="left:75.5px;top:332.6px"></div><div class="b" style="left:75.5px;top:381.9px"></div><div class="b" style="left:75.5px;top:431.2px"></div><div class="b" style="left:75.5px;top:480.5px"></div><div class="b" style="left:75.5px;top:529.8px"></div><div class="b" style="left:75.5px;top:579.1px"></div><div class="b" style="left:75.5px;top:628.4px"></div><div class="b" style="left:75.5px;top:677.7px"></div><div class="b" style="left:75.5px;top:727.0px"></div><div class="b" style="left:1047.8px;top:332.6px"></div><div class="b" style="left:1047.8px;top:381.9px"></div><div class="b" style="left:1047.8px;top:431.2px"></div><div class="b" style="left:1047.8px;top:529.8px"></div><div class="b" style="left:1047.8px;top:628.4px"></div><div class="b" style="left:1047.8px;top:677.7px"></div>
<svg id="logo" style="left:0;top:0" width="1536" height="1090" viewBox="0 0 1536 1090"><g transform="translate(660.4,1028.7) rotate(45)"><polygon points="-21.30,-9.30 2.00,-9.30 2.00,-2.00 -9.30,-2.00 -9.30,9.30 -21.30,9.30" fill="#7fa3bc"/><circle cx="-24.2" cy="0" r="3.45" fill="#7fa3bc"/><polygon points="-9.30,-2.00 -2.00,-2.00 -2.00,9.30 9.30,9.30 9.30,21.30 -9.30,21.30" fill="#b0bd20"/><circle cx="0" cy="24.2" r="3.45" fill="#b0bd20"/><polygon points="21.30,-9.30 21.30,9.30 -2.00,9.30 -2.00,2.00 9.30,2.00 9.30,-9.30" fill="#fdd100"/><circle cx="24.2" cy="0" r="3.45" fill="#fdd100"/><polygon points="-9.30,-21.30 9.30,-21.30 9.30,2.00 2.00,2.00 2.00,-9.30 -9.30,-9.30" fill="#f0891c"/><circle cx="0" cy="-24.2" r="3.45" fill="#f0891c"/></g></svg>
</body></html>
